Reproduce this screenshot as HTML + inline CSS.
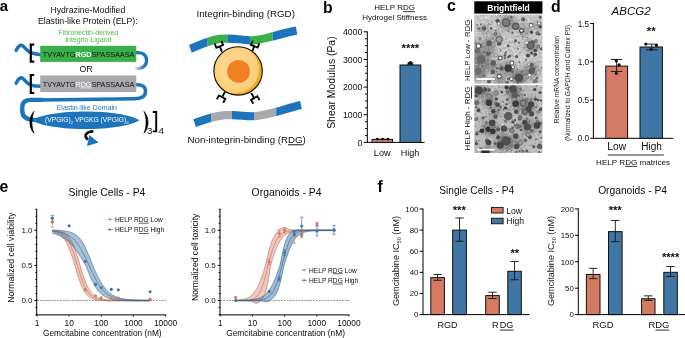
<!DOCTYPE html>
<html lang="en"><head><meta charset="utf-8"><title>Figure</title>
<style>
html,body{margin:0;padding:0;background:#fff;}
body{width:685px;height:338px;overflow:hidden;}
svg{display:block;font-family:'Liberation Sans', Arial, sans-serif;}
</style></head><body>
<svg width="685" height="338" viewBox="0 0 685 338">
<rect width="685" height="338" fill="#fff"/>
<g id="panel-a">
<text x="-0.2" y="11.0" font-size="15.0" text-anchor="start" fill="#000" font-weight="bold">a</text>
<text x="87.8" y="13" font-size="8.7" text-anchor="middle" fill="#0d0d0d">Hydrazine-Modified</text>
<text x="87.8" y="23.6" font-size="8.75" text-anchor="middle" fill="#0d0d0d">Elastin-like Protein (ELP):</text>
<text x="88.3" y="35.4" font-size="7.0" text-anchor="middle" fill="#4DB848">Fibronectin-derived</text>
<text x="88.3" y="42.2" font-size="7.0" text-anchor="middle" fill="#4DB848">Integrin Ligand</text>
<path d="M16.2 50.4 C17.8 46.6 20.6 44.2 22.8 45.8 C25.6 48 27.4 51.6 31 52.8 C34.5 53.8 37.5 54.4 41 54.8" fill="none" stroke="#1C75BC" stroke-width="3.5" stroke-linecap="round"/>
<linearGradient id="fade" gradientUnits="userSpaceOnUse" x1="146" y1="0" x2="134" y2="0"><stop offset="0" stop-color="#1C75BC"/><stop offset="0.35" stop-color="#1C75BC" stop-opacity="0.85"/><stop offset="1" stop-color="#1C75BC" stop-opacity="0"/></linearGradient>
<path d="M135 52.8 C142.5 51.6 146.6 54.8 146.6 60.2" fill="none" stroke="#1C75BC" stroke-width="3.3" stroke-linecap="butt"/>
<path d="M146.6 60 C146.6 66.6 141 69.4 134 68.4" fill="none" stroke="url(#fade)" stroke-width="3.3" stroke-linecap="butt"/>
<path d="M16.2 83.2 C17.8 79.2 20.6 76.8 22.8 78.4 C25.6 80.6 27.4 84.2 31 85.2 C34.5 86 37.5 86.2 41 86.3" fill="none" stroke="#1C75BC" stroke-width="3.5" stroke-linecap="round"/>
<path d="M135 84.8 C142.5 84 145.5 86.8 145.5 91.5 C145.5 96.4 141.5 98.6 135 98.7 L40 99.9" fill="none" stroke="#1C75BC" stroke-width="3.5" stroke-linecap="round"/>
<path d="M42 99.9 L31 99.9 C25 99.9 22.3 102.4 22.3 107 L22.3 111 C22.3 116.6 26 119.6 34 119.9" fill="none" stroke="#1C75BC" stroke-width="4.4" stroke-linecap="round"/>
<rect x="40.2" y="45.8" width="96.1" height="16.1" fill="#39B04A"/>
<rect x="40.2" y="75.5" width="96.1" height="16.6" fill="#A7A9AC"/>
<text x="42.8" y="56.6" font-size="7.22" fill="#111">TVYAVTG<tspan fill="#fff" font-weight="bold">RGD</tspan>SPASSAASA</text>
<text x="42.8" y="86.6" font-size="7.22" fill="#111">TVYAVTG<tspan fill="#fff">R<tspan text-decoration="underline">DG</tspan></tspan>SPASSAASA</text>
<text x="86" y="71.6" font-size="8.8" text-anchor="middle" fill="#0d0d0d">OR</text>
<path d="M34.2 44.6 H30.8 V61.6 H34.2" fill="none" stroke="#000" stroke-width="2.2"/>
<path d="M34.2 75 H30.8 V93 H34.2" fill="none" stroke="#000" stroke-width="2.2"/>
<text x="86.8" y="110.2" font-size="7.05" text-anchor="middle" fill="#1C75BC">Elastin-like Domain</text>
<path d="M31.5 120.3 C50 108.5 121 108.5 139.5 120.3 C121 132 50 132 31.5 120.3 Z" fill="#1C75BC"/>
<text x="86.8" y="122.3" font-size="6.7" fill="#fff" text-anchor="middle">(VPGIG)<tspan font-size="4.3" dy="1.5">2</tspan><tspan dy="-1.5"> VPGKG (VPGIG)</tspan><tspan font-size="4.3" dy="1.5">2</tspan></text>
<path d="M34 111.4 C28.6 117 28.6 127.6 34 133.2 C31.2 127 31.2 117.6 34 111.4 Z" fill="#000" stroke="#000" stroke-width="0.7"/>
<path d="M144 111.4 C149.4 117 149.4 127.6 144 133.2 C146.8 127 146.8 117.6 144 111.4 Z" fill="#000" stroke="#000" stroke-width="0.7"/>
<text x="149.8" y="134.4" font-size="9.8" text-anchor="middle" fill="#111">3</text>
<path d="M152.8 112 H156.2 V131.4 H152.8" fill="none" stroke="#000" stroke-width="1.9"/>
<text x="161.2" y="134.4" font-size="9.8" text-anchor="middle" fill="#111">4</text>
<path d="M93.4 131.4 C86.5 131.6 82.8 135.8 88 139.6" fill="none" stroke="#111" stroke-width="2.7"/>
<path d="M89.4 135 L98.6 142.6 L87 146 Z" fill="#1C75BC"/>
<text x="245.7" y="17.2" font-size="9.8" text-anchor="middle" fill="#0d0d0d">Integrin-binding (RGD)</text>
<text x="246.7" y="143.3" font-size="9.72" text-anchor="middle" fill="#0d0d0d">Non-integrin-binding (R<tspan text-decoration="underline">DG</tspan>)</text>
<clipPath id="rt0"><rect x="180" y="0" width="27.69999999999999" height="338"/></clipPath>
<path d="M190.4 48.8 C200 45.4 208 40.2 220 38.9 C235 37.3 245 41.2 255 40.2 C270 38.5 280 33.2 296.6 30.6" fill="none" stroke="#1C75BC" stroke-width="8.2" clip-path="url(#rt0)"/>
<clipPath id="rt1"><rect x="207.7" y="0" width="19.600000000000023" height="338"/></clipPath>
<path d="M190.4 48.8 C200 45.4 208 40.2 220 38.9 C235 37.3 245 41.2 255 40.2 C270 38.5 280 33.2 296.6 30.6" fill="none" stroke="#39B04A" stroke-width="8.2" clip-path="url(#rt1)"/>
<clipPath id="rt2"><rect x="227.3" y="0" width="22.69999999999999" height="338"/></clipPath>
<path d="M190.4 48.8 C200 45.4 208 40.2 220 38.9 C235 37.3 245 41.2 255 40.2 C270 38.5 280 33.2 296.6 30.6" fill="none" stroke="#1C75BC" stroke-width="8.2" clip-path="url(#rt2)"/>
<clipPath id="rt3"><rect x="250" y="0" width="22.600000000000023" height="338"/></clipPath>
<path d="M190.4 48.8 C200 45.4 208 40.2 220 38.9 C235 37.3 245 41.2 255 40.2 C270 38.5 280 33.2 296.6 30.6" fill="none" stroke="#39B04A" stroke-width="8.2" clip-path="url(#rt3)"/>
<clipPath id="rt4"><rect x="272.6" y="0" width="27.399999999999977" height="338"/></clipPath>
<path d="M190.4 48.8 C200 45.4 208 40.2 220 38.9 C235 37.3 245 41.2 255 40.2 C270 38.5 280 33.2 296.6 30.6" fill="none" stroke="#1C75BC" stroke-width="8.2" clip-path="url(#rt4)"/>
<clipPath id="rbm0"><rect x="185" y="0" width="25.900000000000006" height="338"/></clipPath>
<path d="M194.6 123.2 C204 120 213 116 225 115.2 C239 114.4 247 117.2 257 116 C272 114.2 285 108.6 301 105" fill="none" stroke="#1C75BC" stroke-width="8.2" clip-path="url(#rbm0)"/>
<clipPath id="rbm1"><rect x="210.9" y="0" width="21.0" height="338"/></clipPath>
<path d="M194.6 123.2 C204 120 213 116 225 115.2 C239 114.4 247 117.2 257 116 C272 114.2 285 108.6 301 105" fill="none" stroke="#A7A9AC" stroke-width="8.2" clip-path="url(#rbm1)"/>
<clipPath id="rbm2"><rect x="231.9" y="0" width="22.0" height="338"/></clipPath>
<path d="M194.6 123.2 C204 120 213 116 225 115.2 C239 114.4 247 117.2 257 116 C272 114.2 285 108.6 301 105" fill="none" stroke="#1C75BC" stroke-width="8.2" clip-path="url(#rbm2)"/>
<clipPath id="rbm3"><rect x="253.9" y="0" width="22.299999999999983" height="338"/></clipPath>
<path d="M194.6 123.2 C204 120 213 116 225 115.2 C239 114.4 247 117.2 257 116 C272 114.2 285 108.6 301 105" fill="none" stroke="#A7A9AC" stroke-width="8.2" clip-path="url(#rbm3)"/>
<clipPath id="rbm4"><rect x="276.2" y="0" width="28.80000000000001" height="338"/></clipPath>
<path d="M194.6 123.2 C204 120 213 116 225 115.2 C239 114.4 247 117.2 257 116 C272 114.2 285 108.6 301 105" fill="none" stroke="#1C75BC" stroke-width="8.2" clip-path="url(#rbm4)"/>
<filter id="blurc"><feGaussianBlur stdDeviation="3"/></filter>
<g transform="translate(219.7 46.4) rotate(-22)" fill="none" stroke="#0a0a0a" stroke-width="1.9" stroke-linecap="butt" stroke-linejoin="miter"><path d="M0 6 V0 M-3.6 -4.4 V0 H3.6 V-4.4"/></g>
<g transform="translate(254.3 46.2) rotate(22)" fill="none" stroke="#0a0a0a" stroke-width="1.9" stroke-linecap="butt" stroke-linejoin="miter"><path d="M0 6 V0 M-3.6 -4.4 V0 H3.6 V-4.4"/></g>
<g transform="translate(222.1 97.2) rotate(208)" fill="none" stroke="#0a0a0a" stroke-width="1.9" stroke-linecap="butt" stroke-linejoin="miter"><path d="M0 6 V0 M-3.6 -4.4 V0 H3.6 V-4.4"/></g>
<g transform="translate(254.2 98.1) rotate(150)" fill="none" stroke="#0a0a0a" stroke-width="1.9" stroke-linecap="butt" stroke-linejoin="miter"><path d="M0 6 V0 M-3.6 -4.4 V0 H3.6 V-4.4"/></g>
<clipPath id="cellclip"><circle cx="238.1" cy="70.9" r="24.2"/></clipPath>
<circle cx="238.1" cy="70.9" r="24.2" fill="#F6AA1E"/>
<circle cx="234.9" cy="69.3" r="24.0" fill="#FCCD76" clip-path="url(#cellclip)"/>
<circle cx="233.5" cy="68.3" r="19" fill="#FCD58A" clip-path="url(#cellclip)" filter="url(#blurc)"/>
<circle cx="238.1" cy="70.9" r="24.2" fill="none" stroke="#111" stroke-width="1.15"/>
<circle cx="238.6" cy="71.4" r="11.4" fill="#F08121"/>
</g>
<g id="panel-b">
<text x="323.0" y="13.2" font-size="15.8" text-anchor="start" fill="#000" font-weight="bold">b</text>
<text x="394.6" y="10.3" font-size="8.0" text-anchor="middle" fill="#0d0d0d">HELP R<tspan text-decoration="underline">DG</tspan></text>
<text x="394.6" y="19.6" font-size="8.0" text-anchor="middle" fill="#0d0d0d">Hydrogel Stiffness</text>
<line x1="367.3" y1="31.4" x2="367.3" y2="142.9" stroke="#000" stroke-width="1"/>
<line x1="366.8" y1="142.4" x2="424.6" y2="142.4" stroke="#000" stroke-width="1"/>
<line x1="363.7" y1="142.4" x2="367.3" y2="142.4" stroke="#000" stroke-width="1"/>
<text x="362.3" y="145.5" font-size="8.7" text-anchor="end" fill="#0d0d0d">0</text>
<line x1="365.0" y1="135.49" x2="367.3" y2="135.49" stroke="#000" stroke-width="0.9"/>
<line x1="365.0" y1="128.58" x2="367.3" y2="128.58" stroke="#000" stroke-width="0.9"/>
<line x1="365.0" y1="121.66" x2="367.3" y2="121.66" stroke="#000" stroke-width="0.9"/>
<line x1="363.7" y1="114.75" x2="367.3" y2="114.75" stroke="#000" stroke-width="1"/>
<text x="362.3" y="117.85" font-size="8.7" text-anchor="end" fill="#0d0d0d">1000</text>
<line x1="365.0" y1="107.84" x2="367.3" y2="107.84" stroke="#000" stroke-width="0.9"/>
<line x1="365.0" y1="100.92" x2="367.3" y2="100.92" stroke="#000" stroke-width="0.9"/>
<line x1="365.0" y1="94.01" x2="367.3" y2="94.01" stroke="#000" stroke-width="0.9"/>
<line x1="363.7" y1="87.10000000000001" x2="367.3" y2="87.10000000000001" stroke="#000" stroke-width="1"/>
<text x="362.3" y="90.2" font-size="8.7" text-anchor="end" fill="#0d0d0d">2000</text>
<line x1="365.0" y1="80.19" x2="367.3" y2="80.19" stroke="#000" stroke-width="0.9"/>
<line x1="365.0" y1="73.28" x2="367.3" y2="73.28" stroke="#000" stroke-width="0.9"/>
<line x1="365.0" y1="66.36" x2="367.3" y2="66.36" stroke="#000" stroke-width="0.9"/>
<line x1="363.7" y1="59.45000000000002" x2="367.3" y2="59.45000000000002" stroke="#000" stroke-width="1"/>
<text x="362.3" y="62.55000000000002" font-size="8.7" text-anchor="end" fill="#0d0d0d">3000</text>
<line x1="365.0" y1="52.54" x2="367.3" y2="52.54" stroke="#000" stroke-width="0.9"/>
<line x1="365.0" y1="45.63" x2="367.3" y2="45.63" stroke="#000" stroke-width="0.9"/>
<line x1="365.0" y1="38.71" x2="367.3" y2="38.71" stroke="#000" stroke-width="0.9"/>
<line x1="363.7" y1="31.80000000000001" x2="367.3" y2="31.80000000000001" stroke="#000" stroke-width="1"/>
<text x="362.3" y="34.90000000000001" font-size="8.7" text-anchor="end" fill="#0d0d0d">4000</text>
<text x="335.2" y="82.6" font-size="10.4" text-anchor="middle" fill="#0d0d0d" transform="rotate(-90 335.2 82.6)">Shear Modulus (Pa)</text>
<rect x="372.1" y="139.4" width="20.4" height="3.0" fill="#D57B63" stroke="#111" stroke-width="1"/>
<rect x="400.0" y="65.0" width="20.8" height="77.4" fill="#3F76A3" stroke="#111" stroke-width="1"/>
<line x1="407.3" y1="62.9" x2="413.2" y2="62.9" stroke="#111" stroke-width="0.9"/>
<line x1="407.3" y1="64.4" x2="413.2" y2="64.4" stroke="#111" stroke-width="0.9"/>
<circle cx="409.3" cy="63.2" r="1.25" fill="#111"/>
<circle cx="410.4" cy="62.3" r="1.25" fill="#111"/>
<circle cx="411.4" cy="63.2" r="1.25" fill="#111"/>
<circle cx="377.2" cy="139.1" r="1.3" fill="#111"/>
<circle cx="382.6" cy="139.1" r="1.3" fill="#111"/>
<circle cx="388" cy="139.1" r="1.3" fill="#111"/>
<line x1="377" y1="139.2" x2="388" y2="139.2" stroke="#111" stroke-width="0.8"/>
<text x="410.4" y="51.8" font-size="11.4" text-anchor="middle" fill="#0d0d0d" font-weight="bold">****</text>
<text x="382.2" y="156.0" font-size="9.1" text-anchor="middle" fill="#0d0d0d">Low</text>
<text x="410.1" y="156.0" font-size="9.0" text-anchor="middle" fill="#0d0d0d">High</text>
</g>
<g id="panel-c">
<text x="447.0" y="11.4" font-size="15.8" text-anchor="start" fill="#000" font-weight="bold">c</text>
<rect x="474.3" y="1.3" width="68.1" height="12.3" fill="#000"/>
<text x="508.5" y="10.7" font-size="8.5" text-anchor="middle" fill="#fff" font-weight="bold">Brightfield</text>
<text x="470.0" y="50.3" font-size="7.85" text-anchor="middle" fill="#0d0d0d" transform="rotate(-90 470.0 50.3)">HELP Low - R<tspan text-decoration="underline">DG</tspan></text>
<text x="470.0" y="118.6" font-size="7.95" text-anchor="middle" fill="#0d0d0d" transform="rotate(-90 470.0 118.6)">HELP High - R<tspan text-decoration="underline">DG</tspan></text>
<filter id="blur1" x="-5%" y="-5%" width="110%" height="110%"><feGaussianBlur stdDeviation="0.6"/></filter>
<filter id="blur2" x="-5%" y="-5%" width="110%" height="110%"><feGaussianBlur stdDeviation="2.4"/></filter>
<filter id="grain" x="0" y="0" width="100%" height="100%"><feTurbulence type="fractalNoise" baseFrequency="0.36" numOctaves="2" seed="7" result="n"/><feColorMatrix type="matrix" values="0 0 0 0 0.2  0 0 0 0 0.2  0 0 0 0 0.2  3.0 0 0 0 -1.35"/></filter>
<filter id="grainw" x="0" y="0" width="100%" height="100%"><feTurbulence type="fractalNoise" baseFrequency="0.5" numOctaves="2" seed="23" result="n"/><feColorMatrix type="matrix" values="0 0 0 0 0.95  0 0 0 0 0.95  0 0 0 0 0.95  0 2.4 0 0 -1.15"/></filter>
<clipPath id="im1"><rect x="474.3" y="14.8" width="68.1" height="68.6"/></clipPath>
<clipPath id="im2"><rect x="474.3" y="85.3" width="68.1" height="67.8"/></clipPath>
<g clip-path="url(#im1)">
<rect x="470" y="11.8" width="76" height="74.60000000000001" fill="#CACACA"/>
<g filter="url(#blur2)">
<circle cx="481" cy="60" r="9" fill="#787878"/>
<circle cx="479" cy="72" r="8" fill="#7c7c7c"/>
<circle cx="490" cy="50" r="6" fill="#8c8c8c"/>
<circle cx="519" cy="78" r="8" fill="#787878"/>
<circle cx="508" cy="68" r="7" fill="#858585"/>
<circle cx="531" cy="70" r="8" fill="#858585"/>
<circle cx="531" cy="46" r="7" fill="#8c8c8c"/>
<circle cx="493" cy="66" r="6" fill="#858585"/>
<circle cx="500" cy="80" r="6" fill="#888"/>
<circle cx="508" cy="23" r="8" fill="#8c8c8c"/>
<circle cx="489" cy="44" r="6" fill="#888"/>
<circle cx="478" cy="47" r="5" fill="#909090"/>
<circle cx="497" cy="36" r="6" fill="#999"/>
<circle cx="484" cy="29" r="5" fill="#999"/>
<circle cx="524" cy="30" r="6" fill="#999"/>
<circle cx="538" cy="26" r="5" fill="#999"/>
<circle cx="524" cy="58" r="6" fill="#cfcfcf"/>
<circle cx="486" cy="20" r="5" fill="#cdcdcd"/>
<circle cx="536" cy="38" r="5" fill="#d0d0d0"/>
<circle cx="512" cy="50" r="6" fill="#cdcdcd"/>
<circle cx="506" cy="36" r="5" fill="#cfcfcf"/>
</g>
<rect x="474" y="14.8" width="69" height="68.60000000000001" fill="#000" filter="url(#grain)" opacity="0.45"/>
<rect x="474" y="14.8" width="69" height="68.60000000000001" fill="#fff" filter="url(#grainw)" opacity="0.5"/>
<g filter="url(#blur1)">
<circle cx="505.3" cy="53.2" r="1.24" fill="#808080"/>
<circle cx="505.2" cy="73.5" r="0.65" fill="#808080"/>
<circle cx="517.3" cy="69.2" r="0.58" fill="#5e5e5e"/>
<circle cx="484.1" cy="51.8" r="1.21" fill="#6a6a6a"/>
<circle cx="515.0" cy="42.0" r="0.86" fill="#767676"/>
<circle cx="516.9" cy="71.9" r="0.55" fill="#6a6a6a"/>
<circle cx="487.4" cy="31.4" r="0.52" fill="#808080"/>
<circle cx="496.7" cy="55.3" r="0.66" fill="#767676"/>
<circle cx="518.0" cy="49.1" r="1.03" fill="#808080"/>
<circle cx="519.0" cy="42.7" r="0.94" fill="#6a6a6a"/>
<circle cx="522.6" cy="36.4" r="0.68" fill="#5e5e5e"/>
<circle cx="476.5" cy="53.4" r="0.59" fill="#6a6a6a"/>
<circle cx="532.1" cy="41.3" r="1.27" fill="#6a6a6a"/>
<circle cx="489.0" cy="78.4" r="0.54" fill="#808080"/>
<circle cx="541.2" cy="42.1" r="0.56" fill="#767676"/>
<circle cx="527.4" cy="33.3" r="0.57" fill="#5e5e5e"/>
<circle cx="475.5" cy="42.9" r="1.24" fill="#767676"/>
<circle cx="491.3" cy="21.7" r="0.55" fill="#808080"/>
<circle cx="486.6" cy="53.2" r="0.86" fill="#767676"/>
<circle cx="541.5" cy="67.6" r="0.84" fill="#808080"/>
<circle cx="482.4" cy="43.7" r="0.67" fill="#5e5e5e"/>
<circle cx="533.3" cy="81.7" r="0.97" fill="#6a6a6a"/>
<circle cx="488.8" cy="41.8" r="1.18" fill="#6a6a6a"/>
<circle cx="477.4" cy="24.8" r="0.85" fill="#6a6a6a"/>
<circle cx="527.0" cy="37.4" r="0.74" fill="#6a6a6a"/>
<circle cx="479.6" cy="29.1" r="1.01" fill="#6a6a6a"/>
<circle cx="515.4" cy="40.3" r="0.86" fill="#808080"/>
<circle cx="531.1" cy="24.1" r="0.81" fill="#767676"/>
<circle cx="495.6" cy="30.5" r="0.99" fill="#767676"/>
<circle cx="485.3" cy="57.9" r="0.94" fill="#808080"/>
<circle cx="534.5" cy="56.2" r="0.84" fill="#6a6a6a"/>
<circle cx="481.9" cy="49.9" r="0.70" fill="#808080"/>
<circle cx="492.0" cy="71.3" r="0.98" fill="#5e5e5e"/>
<circle cx="509.9" cy="78.5" r="1.28" fill="#767676"/>
<circle cx="490.0" cy="53.2" r="1.18" fill="#6a6a6a"/>
<circle cx="493.6" cy="77.7" r="0.66" fill="#6a6a6a"/>
<circle cx="479.2" cy="43.0" r="0.70" fill="#6a6a6a"/>
<circle cx="486.5" cy="40.1" r="0.96" fill="#767676"/>
<circle cx="480.8" cy="24.3" r="0.86" fill="#5e5e5e"/>
<circle cx="519.2" cy="62.2" r="0.97" fill="#767676"/>
<circle cx="514.6" cy="78.2" r="0.88" fill="#5e5e5e"/>
<circle cx="522.2" cy="80.8" r="0.52" fill="#6a6a6a"/>
<circle cx="507.3" cy="64.9" r="0.76" fill="#6a6a6a"/>
<circle cx="479.6" cy="52.3" r="1.09" fill="#767676"/>
<circle cx="528.4" cy="77.6" r="0.78" fill="#808080"/>
<circle cx="535.8" cy="74.6" r="0.83" fill="#6a6a6a"/>
<circle cx="533.2" cy="54.1" r="1.00" fill="#808080"/>
<circle cx="500.3" cy="15.7" r="0.56" fill="#6a6a6a"/>
<circle cx="518.0" cy="82.9" r="1.20" fill="#5e5e5e"/>
<circle cx="500.9" cy="65.2" r="0.96" fill="#808080"/>
<circle cx="506.0" cy="51.9" r="0.91" fill="#6a6a6a"/>
<circle cx="495.6" cy="20.8" r="0.52" fill="#6a6a6a"/>
<circle cx="508.3" cy="57.0" r="1.24" fill="#5e5e5e"/>
<circle cx="535.5" cy="40.0" r="0.61" fill="#767676"/>
<circle cx="509.8" cy="66.5" r="0.77" fill="#808080"/>
<circle cx="508.4" cy="31.4" r="0.82" fill="#5e5e5e"/>
<circle cx="488.0" cy="44.4" r="1.14" fill="#767676"/>
<circle cx="534.4" cy="41.2" r="0.97" fill="#5e5e5e"/>
<circle cx="488.8" cy="24.0" r="0.78" fill="#6a6a6a"/>
<circle cx="522.9" cy="80.0" r="0.72" fill="#767676"/>
<circle cx="482.2" cy="47.1" r="1.24" fill="#808080"/>
<circle cx="500.5" cy="50.5" r="1.04" fill="#808080"/>
<circle cx="496.3" cy="71.7" r="0.72" fill="#6a6a6a"/>
<circle cx="520.6" cy="34.1" r="0.78" fill="#6a6a6a"/>
<circle cx="518.1" cy="42.6" r="0.65" fill="#5e5e5e"/>
<circle cx="490.6" cy="24.5" r="0.54" fill="#6a6a6a"/>
<circle cx="504.9" cy="58.0" r="1.02" fill="#5e5e5e"/>
<circle cx="539.7" cy="61.8" r="0.66" fill="#808080"/>
<circle cx="491.9" cy="63.8" r="1.10" fill="#6a6a6a"/>
<circle cx="486.7" cy="33.5" r="0.78" fill="#767676"/>
<circle cx="501.4" cy="68.5" r="2.19" fill="#5a5a5a"/>
<circle cx="534.8" cy="41.6" r="1.64" fill="#666"/>
<circle cx="536.0" cy="40.9" r="1.78" fill="#7a7a7a"/>
<circle cx="538.3" cy="46.7" r="1.88" fill="#666"/>
<circle cx="538.3" cy="46.7" r="0.94" fill="#9a9a9a"/>
<circle cx="533.0" cy="69.0" r="2.21" fill="#5a5a5a"/>
<circle cx="533.0" cy="69.0" r="1.10" fill="#9a9a9a"/>
<circle cx="535.3" cy="81.1" r="2.27" fill="#7a7a7a"/>
<circle cx="537.5" cy="33.2" r="1.96" fill="#5a5a5a"/>
<circle cx="537.5" cy="33.2" r="0.98" fill="#9a9a9a"/>
<circle cx="480.5" cy="45.2" r="1.76" fill="#707070"/>
<circle cx="476.9" cy="69.7" r="1.18" fill="#5a5a5a"/>
<circle cx="476.9" cy="69.7" r="0.59" fill="#9a9a9a"/>
<circle cx="497.4" cy="68.3" r="1.27" fill="#666"/>
<circle cx="535.3" cy="50.3" r="1.91" fill="#4e4e4e"/>
<circle cx="508.0" cy="79.0" r="1.20" fill="#666"/>
<circle cx="512.4" cy="71.2" r="1.77" fill="#666"/>
<circle cx="531.5" cy="53.1" r="1.47" fill="#4e4e4e"/>
<circle cx="497.6" cy="21" r="2.07" fill="#4e4e4e"/>
<circle cx="523.1" cy="19.4" r="2.07" fill="#5c5c5c"/>
<circle cx="540.2" cy="26.8" r="1.83" fill="#4e4e4e"/>
<circle cx="531.6" cy="32.2" r="1.71" fill="#4e4e4e"/>
<circle cx="484.2" cy="28.4" r="2.20" fill="#5c5c5c"/>
<circle cx="491.2" cy="28.4" r="1.22" fill="#5c5c5c"/>
<circle cx="489" cy="43.4" r="2.81" fill="#5c5c5c"/>
<circle cx="515.7" cy="40.7" r="1.46" fill="#5c5c5c"/>
<circle cx="508.2" cy="46" r="1.46" fill="#5c5c5c"/>
<circle cx="512.5" cy="32.7" r="1.10" fill="#5c5c5c"/>
<circle cx="540.2" cy="17.3" r="1.46" fill="#5c5c5c"/>
<circle cx="511.4" cy="17.3" r="1.22" fill="#5c5c5c"/>
<circle cx="478.4" cy="28.4" r="1.22" fill="#6a6a6a"/>
<circle cx="539.1" cy="34.3" r="1.46" fill="#5c5c5c"/>
<circle cx="499.2" cy="43.6" r="2.20" fill="#4e4e4e"/>
<circle cx="481" cy="59.7" r="4.15" fill="#666"/>
<circle cx="493.3" cy="62.9" r="2.68" fill="#5c5c5c"/>
<circle cx="488" cy="53.9" r="2.07" fill="#5c5c5c"/>
<circle cx="492.8" cy="72" r="2.44" fill="#5c5c5c"/>
<circle cx="478.4" cy="70.9" r="3.17" fill="#6c6c6c"/>
<circle cx="508.2" cy="68.2" r="3.66" fill="#3a3a3a"/>
<circle cx="518.9" cy="77.8" r="4.15" fill="#4e4e4e"/>
<circle cx="531.6" cy="70.9" r="3.17" fill="#5c5c5c"/>
<circle cx="531.6" cy="65" r="1.95" fill="#5c5c5c"/>
<circle cx="527.9" cy="55.5" r="2.07" fill="#4e4e4e"/>
<circle cx="535.4" cy="54.4" r="1.71" fill="#4e4e4e"/>
<circle cx="516.7" cy="56.5" r="1.59" fill="#5c5c5c"/>
<circle cx="507.1" cy="82.6" r="1.71" fill="#5c5c5c"/>
<circle cx="489" cy="81.5" r="2.07" fill="#5c5c5c"/>
<circle cx="477.3" cy="50.7" r="2.68" fill="#6a6a6a"/>
<circle cx="541.2" cy="49" r="1.46" fill="#5c5c5c"/>
<circle cx="505" cy="55.5" r="1.34" fill="#5c5c5c"/>
<circle cx="509.8" cy="56" r="1.34" fill="#5c5c5c"/>
<circle cx="525.8" cy="59.6" r="1.10" fill="#5c5c5c"/>
<circle cx="522" cy="72" r="1.22" fill="#6a6a6a"/>
<circle cx="537" cy="78" r="1.34" fill="#6a6a6a"/>
<circle cx="484" cy="76" r="1.46" fill="#6a6a6a"/>
<circle cx="506.1" cy="22.6" r="3.7" fill="#7c7c7c" stroke="#5a5a5a" stroke-width="1.41"/>
<circle cx="515.7" cy="26.3" r="3.2" fill="#747474" stroke="#585858" stroke-width="1.22"/>
<circle cx="499.2" cy="39.6" r="3.0" fill="#a0a0a0" stroke="#6a6a6a" stroke-width="1.14"/>
<circle cx="495.4" cy="33.8" r="1.5" fill="#909090" stroke="#5c5c5c" stroke-width="0.80"/>
<circle cx="480" cy="38.6" r="1.3" fill="#b0b0b0" stroke="#686868" stroke-width="0.80"/>
<circle cx="530.6" cy="45.3" r="3.5" fill="#6c6c6c" stroke="#555" stroke-width="1.33"/>
<circle cx="498.6" cy="23.6" r="2.0" fill="#555"/>
<circle cx="498.6" cy="23.6" r="1.3" fill="#fafafa"/>
<circle cx="521.5" cy="30.6" r="2.6" fill="#555"/>
<circle cx="521.5" cy="30.6" r="1.2" fill="#fafafa"/>
<circle cx="531.1" cy="25.2" r="2.4" fill="#555"/>
<circle cx="531.1" cy="25.2" r="1.5" fill="#fafafa"/>
<circle cx="539.1" cy="23.6" r="1.7" fill="#555"/>
<circle cx="539.1" cy="23.6" r="1.1" fill="#fafafa"/>
<circle cx="494.9" cy="28.4" r="0.9" fill="#fafafa"/>
<circle cx="500.2" cy="30" r="0.7" fill="#fafafa"/>
<circle cx="478.4" cy="46" r="2.7" fill="#555"/>
<circle cx="478.4" cy="46" r="1.7" fill="#fafafa"/>
<circle cx="526.8" cy="42.8" r="1.1" fill="#fafafa"/>
<circle cx="516.7" cy="38" r="0.6" fill="#fafafa"/>
<circle cx="485.8" cy="17.3" r="0.9" fill="#fafafa"/>
<circle cx="500.2" cy="58.1" r="2.5" fill="#555"/>
<circle cx="500.2" cy="58.1" r="1.4" fill="#fafafa"/>
<circle cx="496" cy="55.5" r="1.6" fill="#555"/>
<circle cx="496" cy="55.5" r="0.9" fill="#fafafa"/>
<circle cx="511.9" cy="62.9" r="2.4" fill="#555"/>
<circle cx="511.9" cy="62.9" r="1.5" fill="#fafafa"/>
<circle cx="513" cy="67.2" r="1.7" fill="#555"/>
<circle cx="513" cy="67.2" r="1.1" fill="#fafafa"/>
<circle cx="499.2" cy="76.2" r="2.6" fill="#555"/>
<circle cx="499.2" cy="76.2" r="1.5" fill="#fafafa"/>
<circle cx="511.4" cy="78.9" r="2.2" fill="#555"/>
<circle cx="511.4" cy="78.9" r="1.3" fill="#fafafa"/>
<circle cx="529.5" cy="75.2" r="1.1" fill="#fafafa"/>
<circle cx="529" cy="64.5" r="0.7" fill="#fafafa"/>
<circle cx="525.2" cy="58.9" r="0.6" fill="#fafafa"/>
</g>
<rect x="476.4" y="78.1" width="18.4" height="1.9" fill="#fff"/>
</g>
<g clip-path="url(#im2)">
<rect x="470" y="82.3" width="76" height="73.8" fill="#BDBDBD"/>
<g filter="url(#blur2)">
<circle cx="480" cy="91" r="7" fill="#808080"/>
<circle cx="489" cy="100" r="7" fill="#888"/>
<circle cx="514" cy="92" r="8" fill="#7c7c7c"/>
<circle cx="526" cy="107" r="9" fill="#808080"/>
<circle cx="490" cy="128" r="8" fill="#7c7c7c"/>
<circle cx="504" cy="142" r="9" fill="#7a7a7a"/>
<circle cx="488" cy="151" r="5" fill="#707070"/>
<circle cx="527" cy="127" r="7" fill="#868686"/>
<circle cx="516" cy="104" r="6" fill="#888"/>
<circle cx="537" cy="125" r="5" fill="#888"/>
<circle cx="517" cy="142" r="6" fill="#8c8c8c"/>
<circle cx="496" cy="112" r="6" fill="#909090"/>
<circle cx="536" cy="140" r="5" fill="#bbb"/>
<circle cx="502" cy="97" r="4" fill="#bcbcbc"/>
<circle cx="536" cy="95" r="4" fill="#b8b8b8"/>
<circle cx="481" cy="120" r="4" fill="#b8b8b8"/>
<circle cx="510" cy="123" r="4" fill="#b8b8b8"/>
</g>
<rect x="474" y="85.3" width="69" height="67.8" fill="#000" filter="url(#grain)" opacity="0.45"/>
<rect x="474" y="85.3" width="69" height="67.8" fill="#fff" filter="url(#grainw)" opacity="0.5"/>
<g filter="url(#blur1)">
<circle cx="506.8" cy="129.9" r="1.03" fill="#767676"/>
<circle cx="500.5" cy="152.9" r="0.89" fill="#808080"/>
<circle cx="521.5" cy="126.1" r="0.95" fill="#767676"/>
<circle cx="541.0" cy="110.2" r="0.77" fill="#767676"/>
<circle cx="478.5" cy="140.8" r="0.56" fill="#5e5e5e"/>
<circle cx="520.8" cy="139.4" r="0.57" fill="#6a6a6a"/>
<circle cx="530.2" cy="130.2" r="0.68" fill="#808080"/>
<circle cx="538.9" cy="92.9" r="0.84" fill="#767676"/>
<circle cx="511.2" cy="145.1" r="0.95" fill="#6a6a6a"/>
<circle cx="512.3" cy="119.7" r="0.57" fill="#808080"/>
<circle cx="519.9" cy="117.1" r="0.99" fill="#6a6a6a"/>
<circle cx="518.1" cy="90.9" r="0.65" fill="#5e5e5e"/>
<circle cx="498.7" cy="109.9" r="1.05" fill="#5e5e5e"/>
<circle cx="482.2" cy="101.2" r="0.79" fill="#767676"/>
<circle cx="476.4" cy="141.1" r="0.84" fill="#6a6a6a"/>
<circle cx="489.6" cy="114.3" r="0.81" fill="#6a6a6a"/>
<circle cx="525.7" cy="100.3" r="0.56" fill="#5e5e5e"/>
<circle cx="477.0" cy="104.0" r="0.78" fill="#6a6a6a"/>
<circle cx="509.5" cy="110.3" r="0.77" fill="#808080"/>
<circle cx="506.9" cy="150.3" r="0.88" fill="#767676"/>
<circle cx="506.1" cy="122.5" r="0.65" fill="#767676"/>
<circle cx="536.5" cy="85.8" r="0.71" fill="#5e5e5e"/>
<circle cx="486.7" cy="139.2" r="0.90" fill="#767676"/>
<circle cx="516.6" cy="152.0" r="1.30" fill="#767676"/>
<circle cx="476.1" cy="107.2" r="1.13" fill="#5e5e5e"/>
<circle cx="518.0" cy="100.9" r="0.92" fill="#808080"/>
<circle cx="507.8" cy="109.3" r="1.05" fill="#808080"/>
<circle cx="535.3" cy="96.3" r="0.73" fill="#6a6a6a"/>
<circle cx="493.4" cy="149.3" r="0.91" fill="#808080"/>
<circle cx="522.4" cy="99.8" r="0.73" fill="#5e5e5e"/>
<circle cx="476.4" cy="85.6" r="0.52" fill="#5e5e5e"/>
<circle cx="503.1" cy="101.7" r="0.85" fill="#6a6a6a"/>
<circle cx="512.6" cy="127.7" r="1.24" fill="#5e5e5e"/>
<circle cx="526.2" cy="113.6" r="0.97" fill="#808080"/>
<circle cx="528.2" cy="124.6" r="0.78" fill="#5e5e5e"/>
<circle cx="517.9" cy="111.4" r="0.63" fill="#767676"/>
<circle cx="536.0" cy="139.4" r="1.22" fill="#808080"/>
<circle cx="510.9" cy="138.8" r="0.80" fill="#6a6a6a"/>
<circle cx="522.8" cy="98.1" r="0.72" fill="#808080"/>
<circle cx="516.8" cy="93.8" r="0.93" fill="#808080"/>
<circle cx="514.0" cy="90.2" r="0.78" fill="#6a6a6a"/>
<circle cx="521.1" cy="94.9" r="0.57" fill="#5e5e5e"/>
<circle cx="495.6" cy="97.5" r="1.04" fill="#808080"/>
<circle cx="499.4" cy="87.3" r="0.89" fill="#808080"/>
<circle cx="507.5" cy="89.1" r="0.98" fill="#808080"/>
<circle cx="490.7" cy="107.5" r="1.26" fill="#6a6a6a"/>
<circle cx="540.0" cy="110.1" r="1.18" fill="#808080"/>
<circle cx="494.6" cy="120.3" r="0.62" fill="#5e5e5e"/>
<circle cx="485.5" cy="116.8" r="0.99" fill="#767676"/>
<circle cx="505.8" cy="138.6" r="0.54" fill="#767676"/>
<circle cx="502.2" cy="132.7" r="1.13" fill="#808080"/>
<circle cx="519.6" cy="151.2" r="0.94" fill="#5e5e5e"/>
<circle cx="498.3" cy="134.9" r="0.76" fill="#808080"/>
<circle cx="535.4" cy="128.2" r="0.64" fill="#808080"/>
<circle cx="489.8" cy="122.2" r="0.70" fill="#6a6a6a"/>
<circle cx="503.7" cy="110.0" r="0.83" fill="#5e5e5e"/>
<circle cx="501.0" cy="144.5" r="1.22" fill="#5e5e5e"/>
<circle cx="484.6" cy="102.9" r="0.53" fill="#808080"/>
<circle cx="502.5" cy="127.2" r="0.71" fill="#808080"/>
<circle cx="526.8" cy="118.7" r="1.25" fill="#767676"/>
<circle cx="486.0" cy="99.2" r="0.70" fill="#5e5e5e"/>
<circle cx="510.0" cy="88.9" r="1.17" fill="#5e5e5e"/>
<circle cx="541.2" cy="147.3" r="1.12" fill="#5e5e5e"/>
<circle cx="531.1" cy="99.6" r="1.20" fill="#6a6a6a"/>
<circle cx="512.3" cy="88.2" r="1.15" fill="#767676"/>
<circle cx="485.6" cy="133.8" r="0.74" fill="#767676"/>
<circle cx="541.2" cy="137.7" r="0.94" fill="#6a6a6a"/>
<circle cx="515.8" cy="92.2" r="1.05" fill="#767676"/>
<circle cx="505.0" cy="121.1" r="1.02" fill="#808080"/>
<circle cx="508.9" cy="128.4" r="0.87" fill="#808080"/>
<circle cx="532.5" cy="145.8" r="0.52" fill="#5e5e5e"/>
<circle cx="475.9" cy="95.8" r="1.11" fill="#5e5e5e"/>
<circle cx="521.4" cy="150.1" r="1.05" fill="#808080"/>
<circle cx="511.8" cy="150.6" r="0.80" fill="#6a6a6a"/>
<circle cx="531.6" cy="94.1" r="0.55" fill="#6a6a6a"/>
<circle cx="503.3" cy="139.9" r="1.17" fill="#767676"/>
<circle cx="476.6" cy="131.9" r="0.95" fill="#6a6a6a"/>
<circle cx="514.8" cy="125.1" r="1.14" fill="#767676"/>
<circle cx="505.8" cy="108.1" r="1.02" fill="#5e5e5e"/>
<circle cx="528.9" cy="111.8" r="1.02" fill="#5e5e5e"/>
<circle cx="539.3" cy="152.2" r="1.11" fill="#5e5e5e"/>
<circle cx="484.2" cy="93.6" r="0.89" fill="#767676"/>
<circle cx="520.0" cy="86.2" r="0.68" fill="#808080"/>
<circle cx="504.1" cy="108.4" r="0.82" fill="#5e5e5e"/>
<circle cx="497.6" cy="111.2" r="1.19" fill="#808080"/>
<circle cx="497.8" cy="145.6" r="1.01" fill="#5e5e5e"/>
<circle cx="478.9" cy="108.4" r="0.71" fill="#767676"/>
<circle cx="531.5" cy="130.5" r="0.85" fill="#5e5e5e"/>
<circle cx="491.6" cy="113.7" r="0.58" fill="#808080"/>
<circle cx="486.3" cy="122.5" r="0.98" fill="#5e5e5e"/>
<circle cx="500.4" cy="106.7" r="1.53" fill="#707070"/>
<circle cx="515.1" cy="91.0" r="1.85" fill="#666"/>
<circle cx="516.6" cy="126.8" r="2.13" fill="#666"/>
<circle cx="516.6" cy="126.8" r="1.07" fill="#9a9a9a"/>
<circle cx="497.3" cy="129.6" r="1.58" fill="#7a7a7a"/>
<circle cx="497.3" cy="129.6" r="0.79" fill="#9a9a9a"/>
<circle cx="511.0" cy="141.2" r="1.73" fill="#707070"/>
<circle cx="511.0" cy="141.2" r="0.87" fill="#9a9a9a"/>
<circle cx="507.5" cy="92.3" r="1.47" fill="#4e4e4e"/>
<circle cx="507.5" cy="92.3" r="0.74" fill="#9a9a9a"/>
<circle cx="479.5" cy="131.6" r="1.33" fill="#707070"/>
<circle cx="517.7" cy="125.1" r="1.67" fill="#707070"/>
<circle cx="537.8" cy="112.1" r="1.66" fill="#707070"/>
<circle cx="537.8" cy="112.1" r="0.83" fill="#9a9a9a"/>
<circle cx="535.5" cy="99.2" r="1.81" fill="#4e4e4e"/>
<circle cx="519.4" cy="126.8" r="1.96" fill="#707070"/>
<circle cx="484.2" cy="91.2" r="1.90" fill="#707070"/>
<circle cx="539.8" cy="145.7" r="1.28" fill="#7a7a7a"/>
<circle cx="496.1" cy="103.4" r="1.60" fill="#5a5a5a"/>
<circle cx="496.1" cy="103.4" r="0.80" fill="#9a9a9a"/>
<circle cx="505.4" cy="121.2" r="1.39" fill="#666"/>
<circle cx="505.4" cy="121.2" r="0.70" fill="#9a9a9a"/>
<circle cx="530.7" cy="111.3" r="1.69" fill="#7a7a7a"/>
<circle cx="530.7" cy="111.3" r="0.84" fill="#9a9a9a"/>
<circle cx="487.9" cy="141.5" r="1.56" fill="#7a7a7a"/>
<circle cx="537.4" cy="121.1" r="1.54" fill="#666"/>
<circle cx="537.4" cy="121.1" r="0.77" fill="#9a9a9a"/>
<circle cx="488.9" cy="141.8" r="1.23" fill="#666"/>
<circle cx="488.9" cy="141.8" r="0.61" fill="#9a9a9a"/>
<circle cx="510.8" cy="146.0" r="1.23" fill="#7a7a7a"/>
<circle cx="539.6" cy="123.7" r="2.12" fill="#5a5a5a"/>
<circle cx="476.4" cy="118.8" r="1.53" fill="#4e4e4e"/>
<circle cx="476.4" cy="118.8" r="0.77" fill="#9a9a9a"/>
<circle cx="511.6" cy="146.2" r="1.65" fill="#7a7a7a"/>
<circle cx="475.5" cy="119.5" r="1.60" fill="#666"/>
<circle cx="475.5" cy="119.5" r="0.80" fill="#9a9a9a"/>
<circle cx="528.3" cy="121.0" r="1.85" fill="#707070"/>
<circle cx="528.3" cy="121.0" r="0.92" fill="#9a9a9a"/>
<circle cx="502.3" cy="138.9" r="2.00" fill="#7a7a7a"/>
<circle cx="502.3" cy="138.9" r="1.00" fill="#9a9a9a"/>
<circle cx="520.5" cy="89.3" r="1.44" fill="#707070"/>
<circle cx="498.2" cy="129.3" r="2.09" fill="#5a5a5a"/>
<circle cx="484.4" cy="126.0" r="1.26" fill="#7a7a7a"/>
<circle cx="486.9" cy="140.7" r="2.13" fill="#666"/>
<circle cx="476.3" cy="95.8" r="1.65" fill="#4e4e4e"/>
<circle cx="525.4" cy="140.5" r="2.00" fill="#707070"/>
<circle cx="526.2" cy="99.9" r="2.25" fill="#7a7a7a"/>
<circle cx="494.6" cy="126.6" r="1.55" fill="#707070"/>
<circle cx="494.6" cy="126.6" r="0.77" fill="#9a9a9a"/>
<circle cx="512.9" cy="121.8" r="1.74" fill="#7a7a7a"/>
<circle cx="495.0" cy="143.7" r="1.48" fill="#5a5a5a"/>
<circle cx="491.0" cy="122.2" r="2.04" fill="#666"/>
<circle cx="480.9" cy="149.4" r="1.83" fill="#4e4e4e"/>
<circle cx="541.1" cy="108.7" r="1.42" fill="#5a5a5a"/>
<circle cx="536.1" cy="107.1" r="1.16" fill="#707070"/>
<circle cx="507.2" cy="99.7" r="1.36" fill="#5a5a5a"/>
<circle cx="519.8" cy="118.8" r="2.07" fill="#666"/>
<circle cx="520.1" cy="117.1" r="2.03" fill="#707070"/>
<circle cx="531.7" cy="130.9" r="1.81" fill="#666"/>
<circle cx="523.1" cy="151.2" r="1.24" fill="#4e4e4e"/>
<circle cx="523.1" cy="151.2" r="0.62" fill="#9a9a9a"/>
<circle cx="478.9" cy="90.5" r="4.03" fill="#444"/>
<circle cx="485.3" cy="89.4" r="2.07" fill="#4e4e4e"/>
<circle cx="489" cy="90" r="1.95" fill="#5c5c5c"/>
<circle cx="506.6" cy="87.3" r="2.07" fill="#3a3a3a"/>
<circle cx="513" cy="88.9" r="3.78" fill="#4e4e4e"/>
<circle cx="514.6" cy="95.2" r="3.17" fill="#5c5c5c"/>
<circle cx="501.8" cy="92.1" r="1.34" fill="#4e4e4e"/>
<circle cx="496.5" cy="99" r="1.59" fill="#4e4e4e"/>
<circle cx="489" cy="102.7" r="3.29" fill="#383838"/>
<circle cx="515.7" cy="103.8" r="3.29" fill="#383838"/>
<circle cx="531.1" cy="104.3" r="3.17" fill="#444"/>
<circle cx="497.6" cy="104.8" r="2.32" fill="#4e4e4e"/>
<circle cx="505.5" cy="108" r="1.46" fill="#333"/>
<circle cx="506.6" cy="104.3" r="1.10" fill="#4e4e4e"/>
<circle cx="528.4" cy="109.1" r="3.17" fill="#444"/>
<circle cx="531.6" cy="113.9" r="2.56" fill="#4e4e4e"/>
<circle cx="493.3" cy="111.2" r="2.32" fill="#444"/>
<circle cx="516.2" cy="111.8" r="2.32" fill="#4e4e4e"/>
<circle cx="476.8" cy="102.7" r="2.56" fill="#6a6a6a"/>
<circle cx="508.2" cy="116" r="4.27" fill="#5c5c5c"/>
<circle cx="495.4" cy="116.5" r="2.32" fill="#5c5c5c"/>
<circle cx="540.2" cy="92.6" r="1.46" fill="#4e4e4e"/>
<circle cx="538" cy="100" r="1.34" fill="#4e4e4e"/>
<circle cx="541.2" cy="100.6" r="1.22" fill="#4e4e4e"/>
<circle cx="534.8" cy="89.4" r="1.59" fill="#4e4e4e"/>
<circle cx="518.9" cy="95.8" r="1.10" fill="#5c5c5c"/>
<circle cx="524.7" cy="95.2" r="1.10" fill="#5c5c5c"/>
<circle cx="478.4" cy="110.2" r="1.95" fill="#4e4e4e"/>
<circle cx="540.2" cy="109.6" r="1.59" fill="#4e4e4e"/>
<circle cx="492.2" cy="122.8" r="3.17" fill="#444"/>
<circle cx="524.7" cy="122.3" r="2.56" fill="#444"/>
<circle cx="527.4" cy="127" r="3.54" fill="#4e4e4e"/>
<circle cx="537" cy="125.5" r="3.17" fill="#444"/>
<circle cx="504" cy="128.6" r="3.17" fill="#4e4e4e"/>
<circle cx="488" cy="129.2" r="2.56" fill="#333"/>
<circle cx="482.1" cy="130.8" r="2.32" fill="#333"/>
<circle cx="492.8" cy="131.3" r="2.81" fill="#363636"/>
<circle cx="515.7" cy="136.1" r="2.81" fill="#4e4e4e"/>
<circle cx="498.1" cy="137.2" r="1.95" fill="#444"/>
<circle cx="506.1" cy="140.9" r="4.76" fill="#505050"/>
<circle cx="500.2" cy="145.2" r="3.54" fill="#444"/>
<circle cx="488.5" cy="142.5" r="2.81" fill="#444"/>
<circle cx="516.7" cy="146.2" r="2.81" fill="#4e4e4e"/>
<circle cx="530" cy="137.2" r="1.95" fill="#4e4e4e"/>
<circle cx="539.6" cy="146.2" r="2.56" fill="#5c5c5c"/>
<circle cx="533.8" cy="146.8" r="1.59" fill="#5c5c5c"/>
<circle cx="476.8" cy="134" r="1.59" fill="#4e4e4e"/>
<circle cx="476.3" cy="143.6" r="1.59" fill="#4e4e4e"/>
<circle cx="513" cy="122.3" r="1.22" fill="#4e4e4e"/>
<circle cx="515.1" cy="120.1" r="1.10" fill="#4e4e4e"/>
<circle cx="540.2" cy="131.8" r="1.59" fill="#5c5c5c"/>
<circle cx="526.8" cy="151" r="1.59" fill="#5c5c5c"/>
<circle cx="521" cy="130" r="1.34" fill="#5c5c5c"/>
<circle cx="483" cy="118" r="1.46" fill="#5c5c5c"/>
<circle cx="536" cy="118" r="1.34" fill="#5c5c5c"/>
<circle cx="496" cy="93.1" r="2.3" fill="#999" stroke="#6a6a6a" stroke-width="0.87"/>
<circle cx="489" cy="96.3" r="2.6" fill="#8e8e8e" stroke="#6a6a6a" stroke-width="0.99"/>
<circle cx="523.1" cy="103.2" r="2.9" fill="#888" stroke="#5e5e5e" stroke-width="1.10"/>
<circle cx="524.7" cy="111.8" r="2.6" fill="#777" stroke="#555" stroke-width="0.99"/>
<circle cx="511.9" cy="130.8" r="2.3" fill="#8a8a8a" stroke="#5a5a5a" stroke-width="0.87"/>
<circle cx="520.5" cy="143" r="2.1" fill="#a0a0a0" stroke="#666" stroke-width="0.80"/>
<circle cx="527.9" cy="134.5" r="2.3" fill="#999" stroke="#666" stroke-width="0.87"/>
<circle cx="509" cy="147.5" r="1.6" fill="#999" stroke="#666" stroke-width="0.80"/>
<circle cx="486" cy="97" r="0.6" fill="#fafafa"/>
<circle cx="520" cy="112" r="0.6" fill="#fafafa"/>
<circle cx="499.5" cy="118" r="0.6" fill="#fafafa"/>
<circle cx="511" cy="133" r="0.6" fill="#fafafa"/>
</g>
<rect x="477.2" y="148.8" width="17.4" height="1.9" fill="#fff"/>
</g>
<rect x="481.5" y="150.6" width="8" height="2.4" fill="#2a2a2a"/>
</g>
<g id="panel-d">
<text x="550.9" y="11.8" font-size="15.8" text-anchor="start" fill="#000" font-weight="bold">d</text>
<text x="631.1" y="15.0" font-size="11.5" text-anchor="middle" fill="#0d0d0d" font-style="italic">ABCG2</text>
<line x1="593.4" y1="22.9" x2="593.4" y2="138.8" stroke="#000" stroke-width="1"/>
<line x1="592.9" y1="138.3" x2="673.3" y2="138.3" stroke="#000" stroke-width="1"/>
<line x1="590.1999999999999" y1="138.3" x2="593.4" y2="138.3" stroke="#000" stroke-width="1"/>
<text x="589.1" y="141.25" font-size="8.2" text-anchor="end" fill="#0d0d0d">0.0</text>
<line x1="590.1999999999999" y1="100.05000000000001" x2="593.4" y2="100.05000000000001" stroke="#000" stroke-width="1"/>
<text x="589.1" y="103.00000000000001" font-size="8.2" text-anchor="end" fill="#0d0d0d">0.5</text>
<line x1="590.1999999999999" y1="61.80000000000001" x2="593.4" y2="61.80000000000001" stroke="#000" stroke-width="1"/>
<text x="589.1" y="64.75000000000001" font-size="8.2" text-anchor="end" fill="#0d0d0d">1.0</text>
<line x1="590.1999999999999" y1="23.55000000000001" x2="593.4" y2="23.55000000000001" stroke="#000" stroke-width="1"/>
<text x="589.1" y="26.50000000000001" font-size="8.2" text-anchor="end" fill="#0d0d0d">1.5</text>
<rect x="605.8" y="66.1" width="21.8" height="72.2" fill="#D57B63" stroke="#111" stroke-width="1"/>
<rect x="640.0" y="47.0" width="22.4" height="91.3" fill="#3F76A3" stroke="#111" stroke-width="1"/>
<line x1="616.6" y1="59.5" x2="616.6" y2="71.5" stroke="#111" stroke-width="0.9"/>
<line x1="610.9" y1="59.5" x2="622.3000000000001" y2="59.5" stroke="#111" stroke-width="0.9"/>
<line x1="610.9" y1="71.5" x2="622.3000000000001" y2="71.5" stroke="#111" stroke-width="0.9"/>
<line x1="651.8" y1="44.1" x2="651.8" y2="49.8" stroke="#111" stroke-width="0.9"/>
<line x1="646.0" y1="44.1" x2="657.5999999999999" y2="44.1" stroke="#111" stroke-width="0.9"/>
<line x1="646.0" y1="49.8" x2="657.5999999999999" y2="49.8" stroke="#111" stroke-width="0.9"/>
<circle cx="616.3" cy="60.9" r="1.6" fill="#111"/>
<circle cx="619.1" cy="64.8" r="1.6" fill="#111"/>
<circle cx="616.4" cy="73.3" r="1.6" fill="#111"/>
<circle cx="645.8" cy="44.1" r="1.6" fill="#111"/>
<circle cx="656.4" cy="45.3" r="1.6" fill="#111"/>
<circle cx="651.1" cy="49.3" r="1.6" fill="#111"/>
<text x="651.2" y="35.4" font-size="11.4" text-anchor="middle" fill="#0d0d0d" font-weight="bold">**</text>
<text x="616.8" y="150.2" font-size="10.3" text-anchor="middle" fill="#0d0d0d">Low</text>
<text x="651.6" y="150.2" font-size="10.0" text-anchor="middle" fill="#0d0d0d">High</text>
<line x1="607.8" y1="155.0" x2="663.8" y2="155.0" stroke="#111" stroke-width="0.9"/>
<text x="633.1" y="164.9" font-size="8.1" text-anchor="middle" fill="#0d0d0d">HELP R<tspan text-decoration="underline">DG</tspan> matrices</text>
<text x="558.9" y="79.6" font-size="6.7" text-anchor="middle" fill="#1a1a1a" transform="rotate(-90 558.9 79.6)">Relative mRNA concentration</text>
<text x="569.5" y="83" font-size="6.6" text-anchor="middle" fill="#1a1a1a" transform="rotate(-90 569.5 83)">(Normalized to <tspan font-style="italic">GAPDH</tspan> and Cultrex P0)</text>
</g>
<g id="panel-e">
<text x="-0.5" y="191.5" font-size="15.8" text-anchor="start" fill="#000" font-weight="bold">e</text>
<text x="107.0" y="196.4" font-size="10.4" text-anchor="middle" fill="#0d0d0d">Single Cells - P4</text>
<line x1="37" y1="300.55" x2="166.1" y2="300.55" stroke="#808080" stroke-width="0.9" stroke-dasharray="1.8 1.1"/>
<path d="M52.3 230.2 L53.0 230.3 L53.6 230.3 L54.2 230.4 L54.8 230.4 L55.4 230.5 L56.0 230.6 L56.6 230.6 L57.2 230.7 L57.8 230.8 L58.5 230.9 L59.1 231.1 L59.7 231.2 L60.3 231.4 L60.9 231.6 L61.5 231.8 L62.1 232.0 L62.7 232.2 L63.4 232.5 L64.0 232.8 L64.6 233.2 L65.2 233.6 L65.8 234.0 L66.4 234.5 L67.0 235.1 L67.6 235.7 L68.3 236.3 L68.9 237.1 L69.5 237.9 L70.1 238.8 L70.7 239.8 L71.3 240.8 L71.9 242.0 L72.5 243.2 L73.2 244.6 L73.8 246.0 L74.4 247.6 L75.0 249.2 L75.6 251.0 L76.2 252.8 L76.8 254.7 L77.4 256.7 L78.1 258.7 L78.7 260.8 L79.3 262.9 L79.9 265.0 L80.5 267.0 L81.1 269.0 L81.7 271.0 L82.3 272.9 L82.9 274.8 L83.6 276.6 L84.2 278.3 L84.8 280.0 L85.4 281.6 L86.0 283.1 L86.6 284.6 L87.2 285.9 L87.8 287.2 L88.5 288.3 L89.1 289.4 L89.7 290.4 L90.3 291.3 L90.9 292.2 L91.5 293.0 L92.1 293.7 L92.7 294.3 L93.4 294.9 L94.0 295.4 L94.6 295.9 L95.2 296.3 L95.8 296.7 L96.4 297.1 L97.0 297.4 L97.6 297.7 L98.3 298.0 L98.9 298.2 L99.5 298.4 L100.1 298.6 L100.7 298.8 L101.3 298.9 L101.9 299.1 L102.5 299.2 L103.2 299.3 L103.8 299.4 L104.4 299.5 L105.0 299.5 L105.6 299.6 L106.2 299.7 L106.8 299.7 L107.4 299.8 L108.0 299.8 L108.7 299.9 L109.3 299.9 L109.9 299.9 L110.5 300.0 L111.1 300.0 L111.7 300.0 L112.3 300.0 L112.9 300.0 L113.6 300.1 L114.2 300.1 L114.8 300.1 L115.4 300.1 L116.0 300.1 L116.6 300.1 L117.2 300.1 L117.8 300.1 L118.5 300.1 L119.1 300.2 L119.7 300.2 L120.3 300.2 L120.9 300.2 L121.5 300.2 L122.1 300.2 L122.7 300.2 L123.4 300.2 L124.0 300.2 L124.6 300.2 L125.2 300.2 L125.8 300.2 L126.4 300.2 L127.0 300.2 L127.6 300.2 L128.2 300.2 L128.9 300.2 L129.5 300.2 L130.1 300.2 L130.7 300.2 L131.3 300.2 L131.9 300.2 L132.5 300.2 L133.1 300.2 L133.8 300.2 L134.4 300.2 L135.0 300.2 L135.6 300.2 L136.2 300.2 L136.8 300.2 L137.4 300.2 L138.0 300.2 L138.7 300.2 L139.3 300.2 L139.9 300.2 L140.5 300.2 L141.1 300.2 L141.7 300.2 L142.3 300.2 L142.9 300.2 L143.6 300.2 L144.2 300.2 L144.8 300.2 L145.4 300.2 L146.0 300.2 L146.6 300.2 L147.2 300.2 L147.8 300.2 L148.5 300.2 L149.1 300.2 L149.7 300.2 L150.3 300.2 L150.3 300.9 L149.7 300.9 L149.1 300.9 L148.5 300.9 L147.8 300.9 L147.2 300.9 L146.6 300.9 L146.0 300.9 L145.4 300.9 L144.8 300.9 L144.2 300.9 L143.6 300.9 L142.9 300.9 L142.3 300.9 L141.7 300.9 L141.1 300.9 L140.5 300.9 L139.9 300.9 L139.3 300.9 L138.7 300.9 L138.0 300.9 L137.4 300.9 L136.8 300.9 L136.2 300.9 L135.6 300.9 L135.0 300.9 L134.4 300.9 L133.8 300.9 L133.1 300.9 L132.5 300.9 L131.9 300.9 L131.3 300.9 L130.7 300.9 L130.1 300.9 L129.5 300.9 L128.9 300.9 L128.2 300.9 L127.6 300.9 L127.0 300.9 L126.4 300.9 L125.8 300.9 L125.2 300.9 L124.6 300.9 L124.0 300.9 L123.4 300.9 L122.7 300.9 L122.1 300.9 L121.5 300.9 L120.9 300.9 L120.3 300.9 L119.7 300.9 L119.1 300.9 L118.5 300.9 L117.8 300.9 L117.2 300.9 L116.6 300.9 L116.0 300.9 L115.4 300.9 L114.8 300.9 L114.2 300.9 L113.6 300.9 L112.9 300.9 L112.3 300.9 L111.7 300.9 L111.1 300.8 L110.5 300.8 L109.9 300.8 L109.3 300.8 L108.7 300.8 L108.0 300.8 L107.4 300.8 L106.8 300.8 L106.2 300.8 L105.6 300.7 L105.0 300.7 L104.4 300.7 L103.8 300.7 L103.2 300.6 L102.5 300.6 L101.9 300.6 L101.3 300.5 L100.7 300.5 L100.1 300.4 L99.5 300.3 L98.9 300.3 L98.3 300.2 L97.6 300.1 L97.0 300.0 L96.4 299.9 L95.8 299.8 L95.2 299.6 L94.6 299.5 L94.0 299.3 L93.4 299.1 L92.7 298.9 L92.1 298.6 L91.5 298.3 L90.9 298.0 L90.3 297.6 L89.7 297.2 L89.1 296.8 L88.5 296.3 L87.8 295.8 L87.2 295.2 L86.6 294.5 L86.0 293.7 L85.4 292.9 L84.8 292.0 L84.2 291.1 L83.6 290.0 L82.9 288.8 L82.3 287.6 L81.7 286.2 L81.1 284.8 L80.5 283.2 L79.9 281.5 L79.3 279.8 L78.7 278.0 L78.1 276.1 L77.4 274.1 L76.8 272.1 L76.2 270.0 L75.6 267.9 L75.0 265.8 L74.4 263.8 L73.8 261.8 L73.2 259.9 L72.5 258.0 L71.9 256.2 L71.3 254.4 L70.7 252.6 L70.1 251.0 L69.5 249.4 L68.9 247.9 L68.3 246.5 L67.6 245.1 L67.0 243.9 L66.4 242.7 L65.8 241.6 L65.2 240.6 L64.6 239.7 L64.0 238.9 L63.4 238.1 L62.7 237.4 L62.1 236.7 L61.5 236.1 L60.9 235.6 L60.3 235.1 L59.7 234.7 L59.1 234.2 L58.5 233.9 L57.8 233.6 L57.2 233.3 L56.6 233.0 L56.0 232.7 L55.4 232.5 L54.8 232.3 L54.2 232.2 L53.6 232.0 L53.0 231.9 L52.3 231.7 Z" fill="#D57B63" fill-opacity="0.42" stroke="none"/>
<path d="M52.3 230.2 L53.0 230.3 L53.6 230.3 L54.2 230.4 L54.8 230.4 L55.4 230.5 L56.0 230.6 L56.6 230.6 L57.2 230.7 L57.8 230.8 L58.5 230.9 L59.1 231.1 L59.7 231.2 L60.3 231.4 L60.9 231.6 L61.5 231.8 L62.1 232.0 L62.7 232.2 L63.4 232.5 L64.0 232.8 L64.6 233.2 L65.2 233.6 L65.8 234.0 L66.4 234.5 L67.0 235.1 L67.6 235.7 L68.3 236.3 L68.9 237.1 L69.5 237.9 L70.1 238.8 L70.7 239.8 L71.3 240.8 L71.9 242.0 L72.5 243.2 L73.2 244.6 L73.8 246.0 L74.4 247.6 L75.0 249.2 L75.6 251.0 L76.2 252.8 L76.8 254.7 L77.4 256.7 L78.1 258.7 L78.7 260.8 L79.3 262.9 L79.9 265.0 L80.5 267.0 L81.1 269.0 L81.7 271.0 L82.3 272.9 L82.9 274.8 L83.6 276.6 L84.2 278.3 L84.8 280.0 L85.4 281.6 L86.0 283.1 L86.6 284.6 L87.2 285.9 L87.8 287.2 L88.5 288.3 L89.1 289.4 L89.7 290.4 L90.3 291.3 L90.9 292.2 L91.5 293.0 L92.1 293.7 L92.7 294.3 L93.4 294.9 L94.0 295.4 L94.6 295.9 L95.2 296.3 L95.8 296.7 L96.4 297.1 L97.0 297.4 L97.6 297.7 L98.3 298.0 L98.9 298.2 L99.5 298.4 L100.1 298.6 L100.7 298.8 L101.3 298.9 L101.9 299.1 L102.5 299.2 L103.2 299.3 L103.8 299.4 L104.4 299.5 L105.0 299.5 L105.6 299.6 L106.2 299.7 L106.8 299.7 L107.4 299.8 L108.0 299.8 L108.7 299.9 L109.3 299.9 L109.9 299.9 L110.5 300.0 L111.1 300.0 L111.7 300.0 L112.3 300.0 L112.9 300.0 L113.6 300.1 L114.2 300.1 L114.8 300.1 L115.4 300.1 L116.0 300.1 L116.6 300.1 L117.2 300.1 L117.8 300.1 L118.5 300.1 L119.1 300.2 L119.7 300.2 L120.3 300.2 L120.9 300.2 L121.5 300.2 L122.1 300.2 L122.7 300.2 L123.4 300.2 L124.0 300.2 L124.6 300.2 L125.2 300.2 L125.8 300.2 L126.4 300.2 L127.0 300.2 L127.6 300.2 L128.2 300.2 L128.9 300.2 L129.5 300.2 L130.1 300.2 L130.7 300.2 L131.3 300.2 L131.9 300.2 L132.5 300.2 L133.1 300.2 L133.8 300.2 L134.4 300.2 L135.0 300.2 L135.6 300.2 L136.2 300.2 L136.8 300.2 L137.4 300.2 L138.0 300.2 L138.7 300.2 L139.3 300.2 L139.9 300.2 L140.5 300.2 L141.1 300.2 L141.7 300.2 L142.3 300.2 L142.9 300.2 L143.6 300.2 L144.2 300.2 L144.8 300.2 L145.4 300.2 L146.0 300.2 L146.6 300.2 L147.2 300.2 L147.8 300.2 L148.5 300.2 L149.1 300.2 L149.7 300.2 L150.3 300.2" fill="none" stroke="#C9654C" stroke-width="0.6"/>
<path d="M52.3 231.7 L53.0 231.9 L53.6 232.0 L54.2 232.2 L54.8 232.3 L55.4 232.5 L56.0 232.7 L56.6 233.0 L57.2 233.3 L57.8 233.6 L58.5 233.9 L59.1 234.2 L59.7 234.7 L60.3 235.1 L60.9 235.6 L61.5 236.1 L62.1 236.7 L62.7 237.4 L63.4 238.1 L64.0 238.9 L64.6 239.7 L65.2 240.6 L65.8 241.6 L66.4 242.7 L67.0 243.9 L67.6 245.1 L68.3 246.5 L68.9 247.9 L69.5 249.4 L70.1 251.0 L70.7 252.6 L71.3 254.4 L71.9 256.2 L72.5 258.0 L73.2 259.9 L73.8 261.8 L74.4 263.8 L75.0 265.8 L75.6 267.9 L76.2 270.0 L76.8 272.1 L77.4 274.1 L78.1 276.1 L78.7 278.0 L79.3 279.8 L79.9 281.5 L80.5 283.2 L81.1 284.8 L81.7 286.2 L82.3 287.6 L82.9 288.8 L83.6 290.0 L84.2 291.1 L84.8 292.0 L85.4 292.9 L86.0 293.7 L86.6 294.5 L87.2 295.2 L87.8 295.8 L88.5 296.3 L89.1 296.8 L89.7 297.2 L90.3 297.6 L90.9 298.0 L91.5 298.3 L92.1 298.6 L92.7 298.9 L93.4 299.1 L94.0 299.3 L94.6 299.5 L95.2 299.6 L95.8 299.8 L96.4 299.9 L97.0 300.0 L97.6 300.1 L98.3 300.2 L98.9 300.3 L99.5 300.3 L100.1 300.4 L100.7 300.5 L101.3 300.5 L101.9 300.6 L102.5 300.6 L103.2 300.6 L103.8 300.7 L104.4 300.7 L105.0 300.7 L105.6 300.7 L106.2 300.8 L106.8 300.8 L107.4 300.8 L108.0 300.8 L108.7 300.8 L109.3 300.8 L109.9 300.8 L110.5 300.8 L111.1 300.8 L111.7 300.9 L112.3 300.9 L112.9 300.9 L113.6 300.9 L114.2 300.9 L114.8 300.9 L115.4 300.9 L116.0 300.9 L116.6 300.9 L117.2 300.9 L117.8 300.9 L118.5 300.9 L119.1 300.9 L119.7 300.9 L120.3 300.9 L120.9 300.9 L121.5 300.9 L122.1 300.9 L122.7 300.9 L123.4 300.9 L124.0 300.9 L124.6 300.9 L125.2 300.9 L125.8 300.9 L126.4 300.9 L127.0 300.9 L127.6 300.9 L128.2 300.9 L128.9 300.9 L129.5 300.9 L130.1 300.9 L130.7 300.9 L131.3 300.9 L131.9 300.9 L132.5 300.9 L133.1 300.9 L133.8 300.9 L134.4 300.9 L135.0 300.9 L135.6 300.9 L136.2 300.9 L136.8 300.9 L137.4 300.9 L138.0 300.9 L138.7 300.9 L139.3 300.9 L139.9 300.9 L140.5 300.9 L141.1 300.9 L141.7 300.9 L142.3 300.9 L142.9 300.9 L143.6 300.9 L144.2 300.9 L144.8 300.9 L145.4 300.9 L146.0 300.9 L146.6 300.9 L147.2 300.9 L147.8 300.9 L148.5 300.9 L149.1 300.9 L149.7 300.9 L150.3 300.9" fill="none" stroke="#C9654C" stroke-width="0.6"/>
<path d="M52.3 230.9 L53.0 231.0 L53.6 231.0 L54.2 231.1 L54.8 231.2 L55.4 231.4 L56.0 231.5 L56.6 231.6 L57.2 231.8 L57.8 232.0 L58.5 232.2 L59.1 232.4 L59.7 232.6 L60.3 232.9 L60.9 233.2 L61.5 233.6 L62.1 234.0 L62.7 234.4 L63.4 234.8 L64.0 235.4 L64.6 235.9 L65.2 236.6 L65.8 237.3 L66.4 238.0 L67.0 238.9 L67.6 239.8 L68.3 240.8 L68.9 241.8 L69.5 243.0 L70.1 244.3 L70.7 245.6 L71.3 247.1 L71.9 248.6 L72.5 250.2 L73.2 251.9 L73.8 253.7 L74.4 255.5 L75.0 257.4 L75.6 259.4 L76.2 261.4 L76.8 263.4 L77.4 265.4 L78.1 267.5 L78.7 269.5 L79.3 271.5 L79.9 273.5 L80.5 275.4 L81.1 277.2 L81.7 279.0 L82.3 280.7 L82.9 282.3 L83.6 283.8 L84.2 285.3 L84.8 286.6 L85.4 287.9 L86.0 289.0 L86.6 290.1 L87.2 291.1 L87.8 292.0 L88.5 292.8 L89.1 293.6 L89.7 294.3 L90.3 294.9 L90.9 295.5 L91.5 296.0 L92.1 296.5 L92.7 296.9 L93.4 297.3 L94.0 297.6 L94.6 297.9 L95.2 298.2 L95.8 298.5 L96.4 298.7 L97.0 298.9 L97.6 299.1 L98.3 299.2 L98.9 299.4 L99.5 299.5 L100.1 299.6 L100.7 299.7 L101.3 299.8 L101.9 299.9 L102.5 300.0 L103.2 300.0 L103.8 300.1 L104.4 300.1 L105.0 300.2 L105.6 300.2 L106.2 300.3 L106.8 300.3 L107.4 300.3 L108.0 300.3 L108.7 300.4 L109.3 300.4 L109.9 300.4 L110.5 300.4 L111.1 300.4 L111.7 300.4 L112.3 300.5 L112.9 300.5 L113.6 300.5 L114.2 300.5 L114.8 300.5 L115.4 300.5 L116.0 300.5 L116.6 300.5 L117.2 300.5 L117.8 300.5 L118.5 300.5 L119.1 300.5 L119.7 300.5 L120.3 300.5 L120.9 300.5 L121.5 300.5 L122.1 300.5 L122.7 300.5 L123.4 300.5 L124.0 300.5 L124.6 300.5 L125.2 300.5 L125.8 300.5 L126.4 300.5 L127.0 300.5 L127.6 300.5 L128.2 300.5 L128.9 300.5 L129.5 300.5 L130.1 300.5 L130.7 300.5 L131.3 300.5 L131.9 300.5 L132.5 300.5 L133.1 300.5 L133.8 300.5 L134.4 300.5 L135.0 300.5 L135.6 300.5 L136.2 300.5 L136.8 300.5 L137.4 300.5 L138.0 300.5 L138.7 300.5 L139.3 300.5 L139.9 300.5 L140.5 300.5 L141.1 300.5 L141.7 300.5 L142.3 300.5 L142.9 300.5 L143.6 300.5 L144.2 300.5 L144.8 300.5 L145.4 300.5 L146.0 300.5 L146.6 300.5 L147.2 300.5 L147.8 300.5 L148.5 300.5 L149.1 300.5 L149.7 300.5 L150.3 300.5" fill="none" stroke="#C9654C" stroke-width="0.6"/>
<path d="M52.3 230.1 L53.0 230.1 L53.6 230.1 L54.2 230.1 L54.8 230.2 L55.4 230.2 L56.0 230.2 L56.6 230.2 L57.2 230.2 L57.8 230.3 L58.5 230.3 L59.1 230.3 L59.7 230.4 L60.3 230.4 L60.9 230.5 L61.5 230.5 L62.1 230.6 L62.7 230.6 L63.4 230.7 L64.0 230.8 L64.6 230.9 L65.2 231.0 L65.8 231.1 L66.4 231.2 L67.0 231.3 L67.6 231.4 L68.3 231.6 L68.9 231.7 L69.5 231.9 L70.1 232.1 L70.7 232.3 L71.3 232.5 L71.9 232.7 L72.5 233.0 L73.2 233.3 L73.8 233.6 L74.4 234.0 L75.0 234.3 L75.6 234.8 L76.2 235.2 L76.8 235.7 L77.4 236.2 L78.1 236.8 L78.7 237.4 L79.3 238.0 L79.9 238.7 L80.5 239.5 L81.1 240.3 L81.7 241.2 L82.3 242.1 L82.9 243.1 L83.6 244.1 L84.2 245.2 L84.8 246.4 L85.4 247.6 L86.0 248.9 L86.6 250.3 L87.2 251.7 L87.8 253.1 L88.5 254.6 L89.1 256.2 L89.7 257.7 L90.3 259.4 L90.9 261.0 L91.5 262.6 L92.1 264.3 L92.7 265.8 L93.4 267.2 L94.0 268.5 L94.6 269.8 L95.2 271.2 L95.8 272.5 L96.4 273.8 L97.0 275.0 L97.6 276.3 L98.3 277.5 L98.9 278.6 L99.5 279.8 L100.1 280.9 L100.7 281.9 L101.3 282.9 L101.9 283.9 L102.5 284.9 L103.2 285.8 L103.8 286.6 L104.4 287.5 L105.0 288.3 L105.6 289.0 L106.2 289.7 L106.8 290.4 L107.4 291.0 L108.0 291.6 L108.7 292.2 L109.3 292.7 L109.9 293.2 L110.5 293.7 L111.1 294.1 L111.7 294.5 L112.3 294.9 L112.9 295.3 L113.6 295.6 L114.2 295.9 L114.8 296.2 L115.4 296.5 L116.0 296.8 L116.6 297.0 L117.2 297.3 L117.8 297.5 L118.5 297.7 L119.1 297.8 L119.7 298.0 L120.3 298.2 L120.9 298.3 L121.5 298.5 L122.1 298.6 L122.7 298.7 L123.4 298.8 L124.0 298.9 L124.6 299.0 L125.2 299.1 L125.8 299.2 L126.4 299.2 L127.0 299.3 L127.6 299.4 L128.2 299.4 L128.9 299.5 L129.5 299.5 L130.1 299.6 L130.7 299.6 L131.3 299.7 L131.9 299.7 L132.5 299.8 L133.1 299.8 L133.8 299.8 L134.4 299.8 L135.0 299.9 L135.6 299.9 L136.2 299.9 L136.8 299.9 L137.4 300.0 L138.0 300.0 L138.7 300.0 L139.3 300.0 L139.9 300.0 L140.5 300.0 L141.1 300.0 L141.7 300.1 L142.3 300.1 L142.9 300.1 L143.6 300.1 L144.2 300.1 L144.8 300.1 L145.4 300.1 L146.0 300.1 L146.6 300.1 L147.2 300.1 L147.8 300.1 L148.5 300.1 L149.1 300.1 L149.7 300.1 L150.3 300.2 L150.3 300.9 L149.7 300.9 L149.1 300.9 L148.5 300.9 L147.8 300.9 L147.2 300.9 L146.6 300.9 L146.0 300.9 L145.4 300.9 L144.8 300.9 L144.2 300.9 L143.6 300.9 L142.9 300.9 L142.3 300.9 L141.7 300.9 L141.1 300.9 L140.5 300.9 L139.9 300.9 L139.3 300.9 L138.7 300.9 L138.0 300.9 L137.4 300.9 L136.8 300.9 L136.2 300.8 L135.6 300.8 L135.0 300.8 L134.4 300.8 L133.8 300.8 L133.1 300.8 L132.5 300.8 L131.9 300.8 L131.3 300.8 L130.7 300.8 L130.1 300.8 L129.5 300.8 L128.9 300.8 L128.2 300.7 L127.6 300.7 L127.0 300.7 L126.4 300.7 L125.8 300.7 L125.2 300.6 L124.6 300.6 L124.0 300.6 L123.4 300.6 L122.7 300.5 L122.1 300.5 L121.5 300.5 L120.9 300.4 L120.3 300.4 L119.7 300.3 L119.1 300.3 L118.5 300.2 L117.8 300.2 L117.2 300.1 L116.6 300.0 L116.0 300.0 L115.4 299.9 L114.8 299.8 L114.2 299.7 L113.6 299.6 L112.9 299.5 L112.3 299.3 L111.7 299.2 L111.1 299.1 L110.5 298.9 L109.9 298.7 L109.3 298.5 L108.7 298.3 L108.0 298.1 L107.4 297.8 L106.8 297.6 L106.2 297.3 L105.6 297.0 L105.0 296.6 L104.4 296.2 L103.8 295.9 L103.2 295.4 L102.5 295.0 L101.9 294.5 L101.3 293.9 L100.7 293.4 L100.1 292.8 L99.5 292.1 L98.9 291.4 L98.3 290.7 L97.6 289.9 L97.0 289.0 L96.4 288.1 L95.8 287.2 L95.2 286.2 L94.6 285.2 L94.0 284.1 L93.4 282.9 L92.7 281.7 L92.1 280.5 L91.5 279.2 L90.9 277.8 L90.3 276.5 L89.7 275.1 L89.1 273.6 L88.5 272.1 L87.8 270.6 L87.2 269.1 L86.6 267.6 L86.0 266.0 L85.4 264.9 L84.8 263.9 L84.2 262.8 L83.6 261.8 L82.9 260.8 L82.3 259.8 L81.7 258.8 L81.1 257.8 L80.5 256.8 L79.9 255.8 L79.3 254.9 L78.7 254.0 L78.1 253.0 L77.4 252.2 L76.8 251.3 L76.2 250.4 L75.6 249.6 L75.0 248.8 L74.4 248.0 L73.8 247.2 L73.2 246.5 L72.5 245.8 L71.9 245.1 L71.3 244.4 L70.7 243.8 L70.1 243.2 L69.5 242.6 L68.9 242.0 L68.3 241.4 L67.6 240.9 L67.0 240.4 L66.4 239.9 L65.8 239.5 L65.2 239.0 L64.6 238.6 L64.0 238.2 L63.4 237.8 L62.7 237.4 L62.1 237.1 L61.5 236.7 L60.9 236.4 L60.3 236.1 L59.7 235.8 L59.1 235.5 L58.5 235.3 L57.8 235.0 L57.2 234.8 L56.6 234.6 L56.0 234.3 L55.4 234.1 L54.8 234.0 L54.2 233.8 L53.6 233.6 L53.0 233.4 L52.3 233.3 Z" fill="#3F76A3" fill-opacity="0.45" stroke="none"/>
<path d="M52.3 230.1 L53.0 230.1 L53.6 230.1 L54.2 230.1 L54.8 230.2 L55.4 230.2 L56.0 230.2 L56.6 230.2 L57.2 230.2 L57.8 230.3 L58.5 230.3 L59.1 230.3 L59.7 230.4 L60.3 230.4 L60.9 230.5 L61.5 230.5 L62.1 230.6 L62.7 230.6 L63.4 230.7 L64.0 230.8 L64.6 230.9 L65.2 231.0 L65.8 231.1 L66.4 231.2 L67.0 231.3 L67.6 231.4 L68.3 231.6 L68.9 231.7 L69.5 231.9 L70.1 232.1 L70.7 232.3 L71.3 232.5 L71.9 232.7 L72.5 233.0 L73.2 233.3 L73.8 233.6 L74.4 234.0 L75.0 234.3 L75.6 234.8 L76.2 235.2 L76.8 235.7 L77.4 236.2 L78.1 236.8 L78.7 237.4 L79.3 238.0 L79.9 238.7 L80.5 239.5 L81.1 240.3 L81.7 241.2 L82.3 242.1 L82.9 243.1 L83.6 244.1 L84.2 245.2 L84.8 246.4 L85.4 247.6 L86.0 248.9 L86.6 250.3 L87.2 251.7 L87.8 253.1 L88.5 254.6 L89.1 256.2 L89.7 257.7 L90.3 259.4 L90.9 261.0 L91.5 262.6 L92.1 264.3 L92.7 265.8 L93.4 267.2 L94.0 268.5 L94.6 269.8 L95.2 271.2 L95.8 272.5 L96.4 273.8 L97.0 275.0 L97.6 276.3 L98.3 277.5 L98.9 278.6 L99.5 279.8 L100.1 280.9 L100.7 281.9 L101.3 282.9 L101.9 283.9 L102.5 284.9 L103.2 285.8 L103.8 286.6 L104.4 287.5 L105.0 288.3 L105.6 289.0 L106.2 289.7 L106.8 290.4 L107.4 291.0 L108.0 291.6 L108.7 292.2 L109.3 292.7 L109.9 293.2 L110.5 293.7 L111.1 294.1 L111.7 294.5 L112.3 294.9 L112.9 295.3 L113.6 295.6 L114.2 295.9 L114.8 296.2 L115.4 296.5 L116.0 296.8 L116.6 297.0 L117.2 297.3 L117.8 297.5 L118.5 297.7 L119.1 297.8 L119.7 298.0 L120.3 298.2 L120.9 298.3 L121.5 298.5 L122.1 298.6 L122.7 298.7 L123.4 298.8 L124.0 298.9 L124.6 299.0 L125.2 299.1 L125.8 299.2 L126.4 299.2 L127.0 299.3 L127.6 299.4 L128.2 299.4 L128.9 299.5 L129.5 299.5 L130.1 299.6 L130.7 299.6 L131.3 299.7 L131.9 299.7 L132.5 299.8 L133.1 299.8 L133.8 299.8 L134.4 299.8 L135.0 299.9 L135.6 299.9 L136.2 299.9 L136.8 299.9 L137.4 300.0 L138.0 300.0 L138.7 300.0 L139.3 300.0 L139.9 300.0 L140.5 300.0 L141.1 300.0 L141.7 300.1 L142.3 300.1 L142.9 300.1 L143.6 300.1 L144.2 300.1 L144.8 300.1 L145.4 300.1 L146.0 300.1 L146.6 300.1 L147.2 300.1 L147.8 300.1 L148.5 300.1 L149.1 300.1 L149.7 300.1 L150.3 300.2" fill="none" stroke="#2F6492" stroke-width="0.6"/>
<path d="M52.3 233.3 L53.0 233.4 L53.6 233.6 L54.2 233.8 L54.8 234.0 L55.4 234.1 L56.0 234.3 L56.6 234.6 L57.2 234.8 L57.8 235.0 L58.5 235.3 L59.1 235.5 L59.7 235.8 L60.3 236.1 L60.9 236.4 L61.5 236.7 L62.1 237.1 L62.7 237.4 L63.4 237.8 L64.0 238.2 L64.6 238.6 L65.2 239.0 L65.8 239.5 L66.4 239.9 L67.0 240.4 L67.6 240.9 L68.3 241.4 L68.9 242.0 L69.5 242.6 L70.1 243.2 L70.7 243.8 L71.3 244.4 L71.9 245.1 L72.5 245.8 L73.2 246.5 L73.8 247.2 L74.4 248.0 L75.0 248.8 L75.6 249.6 L76.2 250.4 L76.8 251.3 L77.4 252.2 L78.1 253.0 L78.7 254.0 L79.3 254.9 L79.9 255.8 L80.5 256.8 L81.1 257.8 L81.7 258.8 L82.3 259.8 L82.9 260.8 L83.6 261.8 L84.2 262.8 L84.8 263.9 L85.4 264.9 L86.0 266.0 L86.6 267.6 L87.2 269.1 L87.8 270.6 L88.5 272.1 L89.1 273.6 L89.7 275.1 L90.3 276.5 L90.9 277.8 L91.5 279.2 L92.1 280.5 L92.7 281.7 L93.4 282.9 L94.0 284.1 L94.6 285.2 L95.2 286.2 L95.8 287.2 L96.4 288.1 L97.0 289.0 L97.6 289.9 L98.3 290.7 L98.9 291.4 L99.5 292.1 L100.1 292.8 L100.7 293.4 L101.3 293.9 L101.9 294.5 L102.5 295.0 L103.2 295.4 L103.8 295.9 L104.4 296.2 L105.0 296.6 L105.6 297.0 L106.2 297.3 L106.8 297.6 L107.4 297.8 L108.0 298.1 L108.7 298.3 L109.3 298.5 L109.9 298.7 L110.5 298.9 L111.1 299.1 L111.7 299.2 L112.3 299.3 L112.9 299.5 L113.6 299.6 L114.2 299.7 L114.8 299.8 L115.4 299.9 L116.0 300.0 L116.6 300.0 L117.2 300.1 L117.8 300.2 L118.5 300.2 L119.1 300.3 L119.7 300.3 L120.3 300.4 L120.9 300.4 L121.5 300.5 L122.1 300.5 L122.7 300.5 L123.4 300.6 L124.0 300.6 L124.6 300.6 L125.2 300.6 L125.8 300.7 L126.4 300.7 L127.0 300.7 L127.6 300.7 L128.2 300.7 L128.9 300.8 L129.5 300.8 L130.1 300.8 L130.7 300.8 L131.3 300.8 L131.9 300.8 L132.5 300.8 L133.1 300.8 L133.8 300.8 L134.4 300.8 L135.0 300.8 L135.6 300.8 L136.2 300.8 L136.8 300.9 L137.4 300.9 L138.0 300.9 L138.7 300.9 L139.3 300.9 L139.9 300.9 L140.5 300.9 L141.1 300.9 L141.7 300.9 L142.3 300.9 L142.9 300.9 L143.6 300.9 L144.2 300.9 L144.8 300.9 L145.4 300.9 L146.0 300.9 L146.6 300.9 L147.2 300.9 L147.8 300.9 L148.5 300.9 L149.1 300.9 L149.7 300.9 L150.3 300.9" fill="none" stroke="#2F6492" stroke-width="0.6"/>
<path d="M52.3 231.0 L53.0 231.1 L53.6 231.1 L54.2 231.2 L54.8 231.2 L55.4 231.3 L56.0 231.4 L56.6 231.5 L57.2 231.6 L57.8 231.7 L58.5 231.8 L59.1 231.9 L59.7 232.0 L60.3 232.2 L60.9 232.3 L61.5 232.5 L62.1 232.6 L62.7 232.8 L63.4 233.0 L64.0 233.2 L64.6 233.4 L65.2 233.7 L65.8 233.9 L66.4 234.2 L67.0 234.5 L67.6 234.8 L68.3 235.1 L68.9 235.5 L69.5 235.9 L70.1 236.3 L70.7 236.7 L71.3 237.2 L71.9 237.7 L72.5 238.2 L73.2 238.8 L73.8 239.3 L74.4 240.0 L75.0 240.6 L75.6 241.3 L76.2 242.1 L76.8 242.8 L77.4 243.6 L78.1 244.5 L78.7 245.4 L79.3 246.3 L79.9 247.3 L80.5 248.3 L81.1 249.3 L81.7 250.4 L82.3 251.5 L82.9 252.7 L83.6 253.9 L84.2 255.1 L84.8 256.3 L85.4 257.6 L86.0 258.9 L86.6 260.2 L87.2 261.5 L87.8 262.8 L88.5 264.2 L89.1 265.5 L89.7 266.9 L90.3 268.2 L90.9 269.6 L91.5 270.9 L92.1 272.2 L92.7 273.5 L93.4 274.7 L94.0 276.0 L94.6 277.2 L95.2 278.4 L95.8 279.5 L96.4 280.6 L97.0 281.7 L97.6 282.7 L98.3 283.7 L98.9 284.7 L99.5 285.6 L100.1 286.5 L100.7 287.4 L101.3 288.2 L101.9 288.9 L102.5 289.6 L103.2 290.3 L103.8 291.0 L104.4 291.6 L105.0 292.2 L105.6 292.7 L106.2 293.3 L106.8 293.7 L107.4 294.2 L108.0 294.6 L108.7 295.0 L109.3 295.4 L109.9 295.8 L110.5 296.1 L111.1 296.4 L111.7 296.7 L112.3 297.0 L112.9 297.2 L113.6 297.4 L114.2 297.7 L114.8 297.9 L115.4 298.1 L116.0 298.2 L116.6 298.4 L117.2 298.6 L117.8 298.7 L118.5 298.8 L119.1 299.0 L119.7 299.1 L120.3 299.2 L120.9 299.3 L121.5 299.4 L122.1 299.5 L122.7 299.5 L123.4 299.6 L124.0 299.7 L124.6 299.7 L125.2 299.8 L125.8 299.9 L126.4 299.9 L127.0 300.0 L127.6 300.0 L128.2 300.0 L128.9 300.1 L129.5 300.1 L130.1 300.1 L130.7 300.2 L131.3 300.2 L131.9 300.2 L132.5 300.3 L133.1 300.3 L133.8 300.3 L134.4 300.3 L135.0 300.3 L135.6 300.3 L136.2 300.4 L136.8 300.4 L137.4 300.4 L138.0 300.4 L138.7 300.4 L139.3 300.4 L139.9 300.4 L140.5 300.4 L141.1 300.4 L141.7 300.5 L142.3 300.5 L142.9 300.5 L143.6 300.5 L144.2 300.5 L144.8 300.5 L145.4 300.5 L146.0 300.5 L146.6 300.5 L147.2 300.5 L147.8 300.5 L148.5 300.5 L149.1 300.5 L149.7 300.5 L150.3 300.5" fill="none" stroke="#2F6492" stroke-width="0.6"/>
<line x1="52.34" y1="217.37" x2="52.34" y2="227.21" stroke="#D57B63" stroke-width="0.7"/>
<line x1="50.74" y1="217.37" x2="53.94" y2="217.37" stroke="#D57B63" stroke-width="0.7"/>
<line x1="50.74" y1="227.21" x2="53.94" y2="227.21" stroke="#D57B63" stroke-width="0.7"/>
<circle cx="52.34" cy="222.29" r="1.55" fill="#D57B63"/>
<line x1="52.34" y1="215.55" x2="52.34" y2="221.17" stroke="#3F76A3" stroke-width="0.7"/>
<line x1="50.74" y1="215.55" x2="53.94" y2="215.55" stroke="#3F76A3" stroke-width="0.7"/>
<line x1="50.74" y1="221.17" x2="53.94" y2="221.17" stroke="#3F76A3" stroke-width="0.7"/>
<circle cx="52.34" cy="218.36" r="1.55" fill="#3F76A3"/>
<circle cx="69.15" cy="225.87" r="1.55" fill="#3F76A3"/>
<circle cx="85.39" cy="289.66" r="1.55" fill="#D57B63"/>
<circle cx="85.39" cy="261.21" r="1.55" fill="#3F76A3"/>
<circle cx="95.50" cy="295.77" r="1.55" fill="#D57B63"/>
<circle cx="95.50" cy="284.39" r="1.55" fill="#3F76A3"/>
<circle cx="101.30" cy="297.74" r="1.55" fill="#D57B63"/>
<circle cx="101.30" cy="287.48" r="1.55" fill="#3F76A3"/>
<circle cx="111.25" cy="297.53" r="1.55" fill="#D57B63"/>
<circle cx="111.25" cy="289.38" r="1.55" fill="#3F76A3"/>
<circle cx="118.26" cy="297.95" r="1.55" fill="#D57B63"/>
<circle cx="118.26" cy="289.87" r="1.55" fill="#3F76A3"/>
<circle cx="150.12" cy="299.15" r="1.55" fill="#D57B63"/>
<circle cx="150.12" cy="291.77" r="1.55" fill="#3F76A3"/>
<line x1="36.7" y1="208.9" x2="36.7" y2="315.4" stroke="#000" stroke-width="1"/>
<line x1="36.2" y1="314.9" x2="166.1" y2="314.9" stroke="#000" stroke-width="1"/>
<line x1="34.4" y1="300.55" x2="37" y2="300.55" stroke="#000" stroke-width="1"/>
<text x="32.5" y="303.45" font-size="8.0" text-anchor="end" fill="#0d0d0d">0.0</text>
<line x1="34.4" y1="265.425" x2="37" y2="265.425" stroke="#000" stroke-width="1"/>
<text x="32.5" y="268.325" font-size="8.0" text-anchor="end" fill="#0d0d0d">0.5</text>
<line x1="34.4" y1="230.3" x2="37" y2="230.3" stroke="#000" stroke-width="1"/>
<text x="32.5" y="233.20000000000002" font-size="8.0" text-anchor="end" fill="#0d0d0d">1.0</text>
<line x1="35.3" y1="314.6" x2="37" y2="314.6" stroke="#000" stroke-width="0.9"/>
<line x1="35.3" y1="307.57" x2="37" y2="307.57" stroke="#000" stroke-width="0.9"/>
<line x1="35.3" y1="293.53" x2="37" y2="293.53" stroke="#000" stroke-width="0.9"/>
<line x1="35.3" y1="286.5" x2="37" y2="286.5" stroke="#000" stroke-width="0.9"/>
<line x1="35.3" y1="279.48" x2="37" y2="279.48" stroke="#000" stroke-width="0.9"/>
<line x1="35.3" y1="272.45" x2="37" y2="272.45" stroke="#000" stroke-width="0.9"/>
<line x1="35.3" y1="258.4" x2="37" y2="258.4" stroke="#000" stroke-width="0.9"/>
<line x1="35.3" y1="251.38" x2="37" y2="251.38" stroke="#000" stroke-width="0.9"/>
<line x1="35.3" y1="244.35" x2="37" y2="244.35" stroke="#000" stroke-width="0.9"/>
<line x1="35.3" y1="237.33" x2="37" y2="237.33" stroke="#000" stroke-width="0.9"/>
<line x1="35.3" y1="223.28" x2="37" y2="223.28" stroke="#000" stroke-width="0.9"/>
<line x1="35.3" y1="216.25" x2="37" y2="216.25" stroke="#000" stroke-width="0.9"/>
<line x1="35.3" y1="209.23" x2="37" y2="209.23" stroke="#000" stroke-width="0.9"/>
<line x1="37.0" y1="314.9" x2="37.0" y2="316.4" stroke="#000" stroke-width="1"/>
<text x="37.0" y="325.5" font-size="8.4" text-anchor="middle" fill="#0d0d0d">1</text>
<line x1="69.15" y1="314.9" x2="69.15" y2="316.4" stroke="#000" stroke-width="1"/>
<text x="69.15" y="325.5" font-size="8.4" text-anchor="middle" fill="#0d0d0d">10</text>
<line x1="101.3" y1="314.9" x2="101.3" y2="316.4" stroke="#000" stroke-width="1"/>
<text x="101.3" y="325.5" font-size="8.4" text-anchor="middle" fill="#0d0d0d">100</text>
<line x1="133.45" y1="314.9" x2="133.45" y2="316.4" stroke="#000" stroke-width="1"/>
<text x="133.45" y="325.5" font-size="8.4" text-anchor="middle" fill="#0d0d0d">1000</text>
<line x1="165.6" y1="314.9" x2="165.6" y2="316.4" stroke="#000" stroke-width="1"/>
<text x="165.6" y="325.5" font-size="8.4" text-anchor="middle" fill="#0d0d0d">10000</text>
<text x="102.3" y="336.2" font-size="8.36" text-anchor="middle" fill="#0d0d0d">Gemcitabine concentration (nM)</text>
<text x="14.0" y="257.6" font-size="8.7" text-anchor="middle" fill="#0d0d0d" transform="rotate(-90 14.0 257.6)">Normalized cell viability</text>
<line x1="107" y1="219.4" x2="113" y2="219.4" stroke="#D57B63" stroke-width="0.6"/>
<circle cx="110" cy="219.4" r="1.15" fill="#D57B63"/>
<text x="115" y="221.8" font-size="6.62" text-anchor="start" fill="#0d0d0d">HELP R<tspan text-decoration="underline">DG</tspan> Low</text>
<line x1="107" y1="229.6" x2="113" y2="229.6" stroke="#3F76A3" stroke-width="0.6"/>
<circle cx="110" cy="229.6" r="1.15" fill="#3F76A3"/>
<text x="115" y="232.0" font-size="6.62" text-anchor="start" fill="#0d0d0d">HELP R<tspan text-decoration="underline">DG</tspan> High</text>
<text x="286.55" y="195.7" font-size="10.4" text-anchor="middle" fill="#0d0d0d">Organoids - P4</text>
<line x1="220.3" y1="300.55" x2="349.4" y2="300.55" stroke="#808080" stroke-width="0.9" stroke-dasharray="1.8 1.1"/>
<path d="M235.6 300.0 L236.3 300.0 L236.9 300.0 L237.5 299.9 L238.1 299.9 L238.8 299.9 L239.4 299.8 L240.0 299.7 L240.6 299.7 L241.3 299.6 L241.9 299.5 L242.5 299.4 L243.1 299.3 L243.7 299.2 L244.4 299.1 L245.0 298.9 L245.6 298.7 L246.2 298.5 L246.9 298.3 L247.5 298.0 L248.1 297.7 L248.7 297.4 L249.4 297.0 L250.0 296.6 L250.6 296.1 L251.2 295.6 L251.8 295.0 L252.5 294.4 L253.1 293.7 L253.7 292.9 L254.3 292.1 L255.0 291.3 L255.6 290.4 L256.2 289.4 L256.8 288.3 L257.5 287.2 L258.1 286.0 L258.7 284.8 L259.3 283.4 L260.0 281.9 L260.6 280.4 L261.2 278.7 L261.8 277.0 L262.4 275.2 L263.1 273.3 L263.7 271.3 L264.3 269.3 L264.9 267.2 L265.6 265.1 L266.2 262.4 L266.8 259.6 L267.4 256.9 L268.1 254.3 L268.7 251.8 L269.3 249.4 L269.9 247.2 L270.6 245.2 L271.2 243.3 L271.8 241.6 L272.4 240.1 L273.0 238.7 L273.7 237.4 L274.3 236.2 L274.9 235.2 L275.5 234.2 L276.2 233.3 L276.8 232.4 L277.4 231.6 L278.0 230.9 L278.7 230.2 L279.3 229.6 L279.9 229.1 L280.5 228.6 L281.2 228.2 L281.8 227.9 L282.4 227.8 L283.0 227.7 L283.6 227.7 L284.3 227.7 L284.9 227.9 L285.5 228.1 L286.1 228.3 L286.8 228.5 L287.4 228.7 L288.0 229.0 L288.6 229.2 L289.3 229.4 L289.9 229.5 L290.5 229.7 L291.1 229.8 L291.7 229.8 L292.4 229.9 L293.0 230.0 L293.6 230.0 L294.2 230.0 L294.9 230.0 L295.5 230.0 L296.1 230.0 L296.7 230.0 L297.4 230.0 L298.0 230.0 L298.6 230.0 L299.2 230.0 L299.9 230.0 L300.5 230.0 L301.1 230.0 L301.7 230.0 L302.3 230.0 L303.0 230.0 L303.6 230.0 L304.2 230.0 L304.8 230.0 L305.5 230.0 L306.1 230.0 L306.7 230.0 L307.3 230.0 L308.0 230.0 L308.6 230.0 L309.2 230.0 L309.8 230.0 L310.5 230.0 L311.1 230.0 L311.7 230.0 L312.3 230.0 L312.9 230.0 L313.6 230.0 L314.2 230.0 L314.8 230.0 L315.4 230.0 L316.1 230.0 L316.7 230.0 L317.3 230.0 L317.9 230.0 L318.6 230.0 L319.2 230.0 L319.8 230.0 L320.4 230.0 L321.1 230.0 L321.7 230.0 L322.3 230.0 L322.9 230.0 L323.5 230.0 L324.2 230.0 L324.8 230.0 L325.4 230.0 L326.0 230.0 L326.7 230.0 L327.3 230.0 L327.9 230.0 L328.5 230.0 L329.2 230.0 L329.8 230.0 L330.4 230.0 L331.0 230.0 L331.6 230.0 L332.3 230.0 L332.9 230.0 L333.5 230.0 L334.1 230.0 L334.8 230.0 L335.4 230.0 L335.4 230.6 L334.8 230.6 L334.1 230.6 L333.5 230.6 L332.9 230.6 L332.3 230.6 L331.6 230.6 L331.0 230.6 L330.4 230.6 L329.8 230.6 L329.2 230.6 L328.5 230.6 L327.9 230.6 L327.3 230.6 L326.7 230.6 L326.0 230.6 L325.4 230.6 L324.8 230.6 L324.2 230.6 L323.5 230.6 L322.9 230.6 L322.3 230.6 L321.7 230.6 L321.1 230.6 L320.4 230.6 L319.8 230.6 L319.2 230.6 L318.6 230.6 L317.9 230.6 L317.3 230.6 L316.7 230.6 L316.1 230.6 L315.4 230.6 L314.8 230.6 L314.2 230.6 L313.6 230.6 L312.9 230.6 L312.3 230.6 L311.7 230.6 L311.1 230.6 L310.5 230.6 L309.8 230.6 L309.2 230.6 L308.6 230.6 L308.0 230.7 L307.3 230.7 L306.7 230.7 L306.1 230.7 L305.5 230.7 L304.8 230.7 L304.2 230.7 L303.6 230.7 L303.0 230.8 L302.3 230.8 L301.7 230.8 L301.1 230.8 L300.5 230.9 L299.9 230.9 L299.2 230.9 L298.6 231.0 L298.0 231.0 L297.4 231.1 L296.7 231.1 L296.1 231.2 L295.5 231.3 L294.9 231.4 L294.2 231.5 L293.6 231.6 L293.0 231.7 L292.4 231.8 L291.7 232.0 L291.1 232.1 L290.5 232.3 L289.9 232.5 L289.3 232.7 L288.6 233.0 L288.0 233.3 L287.4 233.6 L286.8 233.9 L286.1 234.3 L285.5 234.7 L284.9 235.2 L284.3 235.7 L283.6 236.3 L283.0 236.9 L282.4 237.6 L281.8 238.4 L281.2 239.2 L280.5 240.1 L279.9 241.1 L279.3 242.1 L278.7 243.3 L278.0 244.5 L277.4 245.8 L276.8 247.2 L276.2 248.7 L275.5 250.3 L274.9 252.0 L274.3 253.7 L273.7 255.5 L273.0 257.4 L272.4 259.3 L271.8 261.3 L271.2 263.3 L270.6 265.3 L269.9 269.0 L269.3 273.2 L268.7 277.2 L268.1 280.9 L267.4 284.2 L266.8 287.2 L266.2 289.7 L265.6 291.8 L264.9 293.7 L264.3 295.2 L263.7 296.5 L263.1 297.6 L262.4 298.5 L261.8 299.4 L261.2 300.2 L260.6 300.9 L260.0 301.5 L259.3 302.1 L258.7 302.5 L258.1 302.9 L257.5 303.2 L256.8 303.3 L256.2 303.3 L255.6 303.2 L255.0 303.0 L254.3 302.8 L253.7 302.5 L253.1 302.2 L252.5 301.9 L251.8 301.6 L251.2 301.4 L250.6 301.2 L250.0 301.1 L249.4 301.0 L248.7 300.9 L248.1 300.9 L247.5 300.9 L246.9 300.8 L246.2 300.8 L245.6 300.8 L245.0 300.8 L244.4 300.8 L243.7 300.8 L243.1 300.8 L242.5 300.8 L241.9 300.8 L241.3 300.8 L240.6 300.8 L240.0 300.8 L239.4 300.8 L238.8 300.8 L238.1 300.8 L237.5 300.8 L236.9 300.8 L236.3 300.8 L235.6 300.8 Z" fill="#D57B63" fill-opacity="0.42" stroke="none"/>
<path d="M235.6 300.0 L236.3 300.0 L236.9 300.0 L237.5 299.9 L238.1 299.9 L238.8 299.9 L239.4 299.8 L240.0 299.7 L240.6 299.7 L241.3 299.6 L241.9 299.5 L242.5 299.4 L243.1 299.3 L243.7 299.2 L244.4 299.1 L245.0 298.9 L245.6 298.7 L246.2 298.5 L246.9 298.3 L247.5 298.0 L248.1 297.7 L248.7 297.4 L249.4 297.0 L250.0 296.6 L250.6 296.1 L251.2 295.6 L251.8 295.0 L252.5 294.4 L253.1 293.7 L253.7 292.9 L254.3 292.1 L255.0 291.3 L255.6 290.4 L256.2 289.4 L256.8 288.3 L257.5 287.2 L258.1 286.0 L258.7 284.8 L259.3 283.4 L260.0 281.9 L260.6 280.4 L261.2 278.7 L261.8 277.0 L262.4 275.2 L263.1 273.3 L263.7 271.3 L264.3 269.3 L264.9 267.2 L265.6 265.1 L266.2 262.4 L266.8 259.6 L267.4 256.9 L268.1 254.3 L268.7 251.8 L269.3 249.4 L269.9 247.2 L270.6 245.2 L271.2 243.3 L271.8 241.6 L272.4 240.1 L273.0 238.7 L273.7 237.4 L274.3 236.2 L274.9 235.2 L275.5 234.2 L276.2 233.3 L276.8 232.4 L277.4 231.6 L278.0 230.9 L278.7 230.2 L279.3 229.6 L279.9 229.1 L280.5 228.6 L281.2 228.2 L281.8 227.9 L282.4 227.8 L283.0 227.7 L283.6 227.7 L284.3 227.7 L284.9 227.9 L285.5 228.1 L286.1 228.3 L286.8 228.5 L287.4 228.7 L288.0 229.0 L288.6 229.2 L289.3 229.4 L289.9 229.5 L290.5 229.7 L291.1 229.8 L291.7 229.8 L292.4 229.9 L293.0 230.0 L293.6 230.0 L294.2 230.0 L294.9 230.0 L295.5 230.0 L296.1 230.0 L296.7 230.0 L297.4 230.0 L298.0 230.0 L298.6 230.0 L299.2 230.0 L299.9 230.0 L300.5 230.0 L301.1 230.0 L301.7 230.0 L302.3 230.0 L303.0 230.0 L303.6 230.0 L304.2 230.0 L304.8 230.0 L305.5 230.0 L306.1 230.0 L306.7 230.0 L307.3 230.0 L308.0 230.0 L308.6 230.0 L309.2 230.0 L309.8 230.0 L310.5 230.0 L311.1 230.0 L311.7 230.0 L312.3 230.0 L312.9 230.0 L313.6 230.0 L314.2 230.0 L314.8 230.0 L315.4 230.0 L316.1 230.0 L316.7 230.0 L317.3 230.0 L317.9 230.0 L318.6 230.0 L319.2 230.0 L319.8 230.0 L320.4 230.0 L321.1 230.0 L321.7 230.0 L322.3 230.0 L322.9 230.0 L323.5 230.0 L324.2 230.0 L324.8 230.0 L325.4 230.0 L326.0 230.0 L326.7 230.0 L327.3 230.0 L327.9 230.0 L328.5 230.0 L329.2 230.0 L329.8 230.0 L330.4 230.0 L331.0 230.0 L331.6 230.0 L332.3 230.0 L332.9 230.0 L333.5 230.0 L334.1 230.0 L334.8 230.0 L335.4 230.0" fill="none" stroke="#C9654C" stroke-width="0.6"/>
<path d="M235.6 300.8 L236.3 300.8 L236.9 300.8 L237.5 300.8 L238.1 300.8 L238.8 300.8 L239.4 300.8 L240.0 300.8 L240.6 300.8 L241.3 300.8 L241.9 300.8 L242.5 300.8 L243.1 300.8 L243.7 300.8 L244.4 300.8 L245.0 300.8 L245.6 300.8 L246.2 300.8 L246.9 300.8 L247.5 300.9 L248.1 300.9 L248.7 300.9 L249.4 301.0 L250.0 301.1 L250.6 301.2 L251.2 301.4 L251.8 301.6 L252.5 301.9 L253.1 302.2 L253.7 302.5 L254.3 302.8 L255.0 303.0 L255.6 303.2 L256.2 303.3 L256.8 303.3 L257.5 303.2 L258.1 302.9 L258.7 302.5 L259.3 302.1 L260.0 301.5 L260.6 300.9 L261.2 300.2 L261.8 299.4 L262.4 298.5 L263.1 297.6 L263.7 296.5 L264.3 295.2 L264.9 293.7 L265.6 291.8 L266.2 289.7 L266.8 287.2 L267.4 284.2 L268.1 280.9 L268.7 277.2 L269.3 273.2 L269.9 269.0 L270.6 265.3 L271.2 263.3 L271.8 261.3 L272.4 259.3 L273.0 257.4 L273.7 255.5 L274.3 253.7 L274.9 252.0 L275.5 250.3 L276.2 248.7 L276.8 247.2 L277.4 245.8 L278.0 244.5 L278.7 243.3 L279.3 242.1 L279.9 241.1 L280.5 240.1 L281.2 239.2 L281.8 238.4 L282.4 237.6 L283.0 236.9 L283.6 236.3 L284.3 235.7 L284.9 235.2 L285.5 234.7 L286.1 234.3 L286.8 233.9 L287.4 233.6 L288.0 233.3 L288.6 233.0 L289.3 232.7 L289.9 232.5 L290.5 232.3 L291.1 232.1 L291.7 232.0 L292.4 231.8 L293.0 231.7 L293.6 231.6 L294.2 231.5 L294.9 231.4 L295.5 231.3 L296.1 231.2 L296.7 231.1 L297.4 231.1 L298.0 231.0 L298.6 231.0 L299.2 230.9 L299.9 230.9 L300.5 230.9 L301.1 230.8 L301.7 230.8 L302.3 230.8 L303.0 230.8 L303.6 230.7 L304.2 230.7 L304.8 230.7 L305.5 230.7 L306.1 230.7 L306.7 230.7 L307.3 230.7 L308.0 230.7 L308.6 230.6 L309.2 230.6 L309.8 230.6 L310.5 230.6 L311.1 230.6 L311.7 230.6 L312.3 230.6 L312.9 230.6 L313.6 230.6 L314.2 230.6 L314.8 230.6 L315.4 230.6 L316.1 230.6 L316.7 230.6 L317.3 230.6 L317.9 230.6 L318.6 230.6 L319.2 230.6 L319.8 230.6 L320.4 230.6 L321.1 230.6 L321.7 230.6 L322.3 230.6 L322.9 230.6 L323.5 230.6 L324.2 230.6 L324.8 230.6 L325.4 230.6 L326.0 230.6 L326.7 230.6 L327.3 230.6 L327.9 230.6 L328.5 230.6 L329.2 230.6 L329.8 230.6 L330.4 230.6 L331.0 230.6 L331.6 230.6 L332.3 230.6 L332.9 230.6 L333.5 230.6 L334.1 230.6 L334.8 230.6 L335.4 230.6" fill="none" stroke="#C9654C" stroke-width="0.6"/>
<path d="M235.6 300.5 L236.3 300.5 L236.9 300.5 L237.5 300.5 L238.1 300.5 L238.8 300.5 L239.4 300.5 L240.0 300.5 L240.6 300.5 L241.3 300.5 L241.9 300.5 L242.5 300.4 L243.1 300.4 L243.7 300.4 L244.4 300.4 L245.0 300.3 L245.6 300.3 L246.2 300.3 L246.9 300.2 L247.5 300.1 L248.1 300.1 L248.7 300.0 L249.4 299.9 L250.0 299.8 L250.6 299.7 L251.2 299.5 L251.8 299.4 L252.5 299.2 L253.1 298.9 L253.7 298.7 L254.3 298.3 L255.0 298.0 L255.6 297.6 L256.2 297.1 L256.8 296.5 L257.5 295.9 L258.1 295.2 L258.7 294.3 L259.3 293.4 L260.0 292.3 L260.6 291.1 L261.2 289.8 L261.8 288.3 L262.4 286.6 L263.1 284.8 L263.7 282.8 L264.3 280.6 L264.9 278.3 L265.6 275.9 L266.2 273.4 L266.8 270.7 L267.4 268.0 L268.1 265.3 L268.7 262.9 L269.3 260.6 L269.9 258.3 L270.6 256.1 L271.2 254.0 L271.8 251.9 L272.4 250.0 L273.0 248.1 L273.7 246.4 L274.3 244.8 L274.9 243.3 L275.5 241.9 L276.2 240.7 L276.8 239.6 L277.4 238.5 L278.0 237.6 L278.7 236.8 L279.3 236.0 L279.9 235.4 L280.5 234.8 L281.2 234.2 L281.8 233.8 L282.4 233.4 L283.0 233.0 L283.6 232.7 L284.3 232.4 L284.9 232.1 L285.5 231.9 L286.1 231.7 L286.8 231.5 L287.4 231.4 L288.0 231.2 L288.6 231.1 L289.3 231.0 L289.9 230.9 L290.5 230.9 L291.1 230.8 L291.7 230.7 L292.4 230.7 L293.0 230.6 L293.6 230.6 L294.2 230.6 L294.9 230.5 L295.5 230.5 L296.1 230.5 L296.7 230.4 L297.4 230.4 L298.0 230.4 L298.6 230.4 L299.2 230.4 L299.9 230.4 L300.5 230.4 L301.1 230.4 L301.7 230.4 L302.3 230.3 L303.0 230.3 L303.6 230.3 L304.2 230.3 L304.8 230.3 L305.5 230.3 L306.1 230.3 L306.7 230.3 L307.3 230.3 L308.0 230.3 L308.6 230.3 L309.2 230.3 L309.8 230.3 L310.5 230.3 L311.1 230.3 L311.7 230.3 L312.3 230.3 L312.9 230.3 L313.6 230.3 L314.2 230.3 L314.8 230.3 L315.4 230.3 L316.1 230.3 L316.7 230.3 L317.3 230.3 L317.9 230.3 L318.6 230.3 L319.2 230.3 L319.8 230.3 L320.4 230.3 L321.1 230.3 L321.7 230.3 L322.3 230.3 L322.9 230.3 L323.5 230.3 L324.2 230.3 L324.8 230.3 L325.4 230.3 L326.0 230.3 L326.7 230.3 L327.3 230.3 L327.9 230.3 L328.5 230.3 L329.2 230.3 L329.8 230.3 L330.4 230.3 L331.0 230.3 L331.6 230.3 L332.3 230.3 L332.9 230.3 L333.5 230.3 L334.1 230.3 L334.8 230.3 L335.4 230.3" fill="none" stroke="#C9654C" stroke-width="0.6"/>
<path d="M235.6 300.2 L236.3 300.2 L236.9 300.2 L237.5 300.2 L238.1 300.2 L238.8 300.2 L239.4 300.2 L240.0 300.2 L240.6 300.2 L241.3 300.1 L241.9 300.1 L242.5 300.1 L243.1 300.1 L243.7 300.1 L244.4 300.1 L245.0 300.0 L245.6 300.0 L246.2 300.0 L246.9 300.0 L247.5 299.9 L248.1 299.9 L248.7 299.9 L249.4 299.8 L250.0 299.8 L250.6 299.7 L251.2 299.7 L251.8 299.6 L252.5 299.5 L253.1 299.4 L253.7 299.4 L254.3 299.3 L255.0 299.1 L255.6 299.0 L256.2 298.9 L256.8 298.8 L257.5 298.6 L258.1 298.4 L258.7 298.2 L259.3 298.0 L260.0 297.8 L260.6 297.5 L261.2 297.2 L261.8 296.9 L262.4 296.6 L263.1 296.2 L263.7 295.8 L264.3 295.4 L264.9 294.9 L265.6 294.3 L266.2 293.8 L266.8 293.1 L267.4 292.4 L268.1 291.7 L268.7 290.9 L269.3 290.0 L269.9 289.1 L270.6 288.1 L271.2 287.1 L271.8 285.9 L272.4 284.7 L273.0 283.4 L273.7 282.1 L274.3 280.7 L274.9 279.2 L275.5 277.7 L276.2 276.1 L276.8 274.4 L277.4 272.7 L278.0 271.0 L278.7 269.3 L279.3 267.5 L279.9 265.7 L280.5 262.8 L281.2 259.6 L281.8 256.4 L282.4 253.4 L283.0 250.6 L283.6 248.0 L284.3 245.6 L284.9 243.4 L285.5 241.5 L286.1 239.8 L286.8 238.3 L287.4 237.0 L288.0 235.9 L288.6 234.9 L289.3 234.1 L289.9 233.3 L290.5 232.7 L291.1 232.1 L291.7 231.7 L292.4 231.3 L293.0 230.9 L293.6 230.6 L294.2 230.4 L294.9 230.2 L295.5 230.0 L296.1 229.9 L296.7 229.8 L297.4 229.8 L298.0 229.7 L298.6 229.7 L299.2 229.8 L299.9 229.8 L300.5 229.8 L301.1 229.9 L301.7 229.9 L302.3 229.9 L303.0 230.0 L303.6 230.0 L304.2 230.0 L304.8 230.0 L305.5 230.0 L306.1 230.0 L306.7 230.0 L307.3 230.0 L308.0 230.0 L308.6 230.0 L309.2 230.0 L309.8 230.0 L310.5 230.0 L311.1 230.0 L311.7 230.0 L312.3 230.0 L312.9 230.0 L313.6 230.0 L314.2 230.0 L314.8 230.0 L315.4 230.0 L316.1 230.0 L316.7 230.0 L317.3 230.0 L317.9 230.0 L318.6 230.0 L319.2 230.0 L319.8 230.0 L320.4 230.0 L321.1 230.0 L321.7 230.0 L322.3 230.0 L322.9 230.0 L323.5 230.0 L324.2 230.0 L324.8 230.0 L325.4 230.0 L326.0 230.0 L326.7 230.0 L327.3 230.0 L327.9 230.0 L328.5 230.0 L329.2 230.0 L329.8 230.0 L330.4 230.0 L331.0 230.0 L331.6 230.0 L332.3 230.0 L332.9 230.0 L333.5 230.0 L334.1 230.0 L334.8 230.0 L335.4 230.0 L335.4 230.6 L334.8 230.6 L334.1 230.6 L333.5 230.6 L332.9 230.6 L332.3 230.6 L331.6 230.6 L331.0 230.6 L330.4 230.6 L329.8 230.6 L329.2 230.6 L328.5 230.6 L327.9 230.6 L327.3 230.6 L326.7 230.6 L326.0 230.6 L325.4 230.6 L324.8 230.6 L324.2 230.6 L323.5 230.6 L322.9 230.6 L322.3 230.7 L321.7 230.7 L321.1 230.7 L320.4 230.7 L319.8 230.7 L319.2 230.7 L318.6 230.7 L317.9 230.7 L317.3 230.8 L316.7 230.8 L316.1 230.8 L315.4 230.8 L314.8 230.9 L314.2 230.9 L313.6 230.9 L312.9 231.0 L312.3 231.0 L311.7 231.1 L311.1 231.1 L310.5 231.2 L309.8 231.3 L309.2 231.3 L308.6 231.4 L308.0 231.5 L307.3 231.6 L306.7 231.7 L306.1 231.9 L305.5 232.0 L304.8 232.2 L304.2 232.4 L303.6 232.6 L303.0 232.8 L302.3 233.1 L301.7 233.4 L301.1 233.7 L300.5 234.0 L299.9 234.4 L299.2 234.8 L298.6 235.3 L298.0 235.8 L297.4 236.4 L296.7 237.0 L296.1 237.7 L295.5 238.4 L294.9 239.2 L294.2 240.1 L293.6 241.1 L293.0 242.1 L292.4 243.2 L291.7 244.4 L291.1 245.7 L290.5 247.1 L289.9 248.5 L289.3 250.0 L288.6 251.7 L288.0 253.3 L287.4 255.1 L286.8 256.9 L286.1 258.8 L285.5 260.7 L284.9 262.6 L284.3 264.5 L283.6 267.0 L283.0 270.0 L282.4 273.0 L281.8 275.9 L281.2 278.7 L280.5 281.2 L279.9 283.6 L279.3 285.8 L278.7 287.8 L278.0 289.5 L277.4 291.1 L276.8 292.5 L276.2 293.7 L275.5 294.8 L274.9 295.7 L274.3 296.5 L273.7 297.2 L273.0 297.9 L272.4 298.5 L271.8 299.1 L271.2 299.6 L270.6 300.1 L269.9 300.5 L269.3 300.9 L268.7 301.3 L268.1 301.5 L267.4 301.7 L266.8 301.8 L266.2 301.8 L265.6 301.7 L264.9 301.6 L264.3 301.4 L263.7 301.3 L263.1 301.1 L262.4 301.0 L261.8 300.9 L261.2 300.9 L260.6 300.8 L260.0 300.8 L259.3 300.8 L258.7 300.8 L258.1 300.8 L257.5 300.8 L256.8 300.8 L256.2 300.8 L255.6 300.8 L255.0 300.8 L254.3 300.8 L253.7 300.8 L253.1 300.8 L252.5 300.8 L251.8 300.8 L251.2 300.8 L250.6 300.8 L250.0 300.8 L249.4 300.8 L248.7 300.8 L248.1 300.8 L247.5 300.8 L246.9 300.8 L246.2 300.8 L245.6 300.8 L245.0 300.8 L244.4 300.8 L243.7 300.8 L243.1 300.8 L242.5 300.8 L241.9 300.8 L241.3 300.8 L240.6 300.8 L240.0 300.8 L239.4 300.8 L238.8 300.8 L238.1 300.8 L237.5 300.8 L236.9 300.8 L236.3 300.8 L235.6 300.8 Z" fill="#3F76A3" fill-opacity="0.5" stroke="none"/>
<path d="M235.6 300.2 L236.3 300.2 L236.9 300.2 L237.5 300.2 L238.1 300.2 L238.8 300.2 L239.4 300.2 L240.0 300.2 L240.6 300.2 L241.3 300.1 L241.9 300.1 L242.5 300.1 L243.1 300.1 L243.7 300.1 L244.4 300.1 L245.0 300.0 L245.6 300.0 L246.2 300.0 L246.9 300.0 L247.5 299.9 L248.1 299.9 L248.7 299.9 L249.4 299.8 L250.0 299.8 L250.6 299.7 L251.2 299.7 L251.8 299.6 L252.5 299.5 L253.1 299.4 L253.7 299.4 L254.3 299.3 L255.0 299.1 L255.6 299.0 L256.2 298.9 L256.8 298.8 L257.5 298.6 L258.1 298.4 L258.7 298.2 L259.3 298.0 L260.0 297.8 L260.6 297.5 L261.2 297.2 L261.8 296.9 L262.4 296.6 L263.1 296.2 L263.7 295.8 L264.3 295.4 L264.9 294.9 L265.6 294.3 L266.2 293.8 L266.8 293.1 L267.4 292.4 L268.1 291.7 L268.7 290.9 L269.3 290.0 L269.9 289.1 L270.6 288.1 L271.2 287.1 L271.8 285.9 L272.4 284.7 L273.0 283.4 L273.7 282.1 L274.3 280.7 L274.9 279.2 L275.5 277.7 L276.2 276.1 L276.8 274.4 L277.4 272.7 L278.0 271.0 L278.7 269.3 L279.3 267.5 L279.9 265.7 L280.5 262.8 L281.2 259.6 L281.8 256.4 L282.4 253.4 L283.0 250.6 L283.6 248.0 L284.3 245.6 L284.9 243.4 L285.5 241.5 L286.1 239.8 L286.8 238.3 L287.4 237.0 L288.0 235.9 L288.6 234.9 L289.3 234.1 L289.9 233.3 L290.5 232.7 L291.1 232.1 L291.7 231.7 L292.4 231.3 L293.0 230.9 L293.6 230.6 L294.2 230.4 L294.9 230.2 L295.5 230.0 L296.1 229.9 L296.7 229.8 L297.4 229.8 L298.0 229.7 L298.6 229.7 L299.2 229.8 L299.9 229.8 L300.5 229.8 L301.1 229.9 L301.7 229.9 L302.3 229.9 L303.0 230.0 L303.6 230.0 L304.2 230.0 L304.8 230.0 L305.5 230.0 L306.1 230.0 L306.7 230.0 L307.3 230.0 L308.0 230.0 L308.6 230.0 L309.2 230.0 L309.8 230.0 L310.5 230.0 L311.1 230.0 L311.7 230.0 L312.3 230.0 L312.9 230.0 L313.6 230.0 L314.2 230.0 L314.8 230.0 L315.4 230.0 L316.1 230.0 L316.7 230.0 L317.3 230.0 L317.9 230.0 L318.6 230.0 L319.2 230.0 L319.8 230.0 L320.4 230.0 L321.1 230.0 L321.7 230.0 L322.3 230.0 L322.9 230.0 L323.5 230.0 L324.2 230.0 L324.8 230.0 L325.4 230.0 L326.0 230.0 L326.7 230.0 L327.3 230.0 L327.9 230.0 L328.5 230.0 L329.2 230.0 L329.8 230.0 L330.4 230.0 L331.0 230.0 L331.6 230.0 L332.3 230.0 L332.9 230.0 L333.5 230.0 L334.1 230.0 L334.8 230.0 L335.4 230.0" fill="none" stroke="#2F6492" stroke-width="0.6"/>
<path d="M235.6 300.8 L236.3 300.8 L236.9 300.8 L237.5 300.8 L238.1 300.8 L238.8 300.8 L239.4 300.8 L240.0 300.8 L240.6 300.8 L241.3 300.8 L241.9 300.8 L242.5 300.8 L243.1 300.8 L243.7 300.8 L244.4 300.8 L245.0 300.8 L245.6 300.8 L246.2 300.8 L246.9 300.8 L247.5 300.8 L248.1 300.8 L248.7 300.8 L249.4 300.8 L250.0 300.8 L250.6 300.8 L251.2 300.8 L251.8 300.8 L252.5 300.8 L253.1 300.8 L253.7 300.8 L254.3 300.8 L255.0 300.8 L255.6 300.8 L256.2 300.8 L256.8 300.8 L257.5 300.8 L258.1 300.8 L258.7 300.8 L259.3 300.8 L260.0 300.8 L260.6 300.8 L261.2 300.9 L261.8 300.9 L262.4 301.0 L263.1 301.1 L263.7 301.3 L264.3 301.4 L264.9 301.6 L265.6 301.7 L266.2 301.8 L266.8 301.8 L267.4 301.7 L268.1 301.5 L268.7 301.3 L269.3 300.9 L269.9 300.5 L270.6 300.1 L271.2 299.6 L271.8 299.1 L272.4 298.5 L273.0 297.9 L273.7 297.2 L274.3 296.5 L274.9 295.7 L275.5 294.8 L276.2 293.7 L276.8 292.5 L277.4 291.1 L278.0 289.5 L278.7 287.8 L279.3 285.8 L279.9 283.6 L280.5 281.2 L281.2 278.7 L281.8 275.9 L282.4 273.0 L283.0 270.0 L283.6 267.0 L284.3 264.5 L284.9 262.6 L285.5 260.7 L286.1 258.8 L286.8 256.9 L287.4 255.1 L288.0 253.3 L288.6 251.7 L289.3 250.0 L289.9 248.5 L290.5 247.1 L291.1 245.7 L291.7 244.4 L292.4 243.2 L293.0 242.1 L293.6 241.1 L294.2 240.1 L294.9 239.2 L295.5 238.4 L296.1 237.7 L296.7 237.0 L297.4 236.4 L298.0 235.8 L298.6 235.3 L299.2 234.8 L299.9 234.4 L300.5 234.0 L301.1 233.7 L301.7 233.4 L302.3 233.1 L303.0 232.8 L303.6 232.6 L304.2 232.4 L304.8 232.2 L305.5 232.0 L306.1 231.9 L306.7 231.7 L307.3 231.6 L308.0 231.5 L308.6 231.4 L309.2 231.3 L309.8 231.3 L310.5 231.2 L311.1 231.1 L311.7 231.1 L312.3 231.0 L312.9 231.0 L313.6 230.9 L314.2 230.9 L314.8 230.9 L315.4 230.8 L316.1 230.8 L316.7 230.8 L317.3 230.8 L317.9 230.7 L318.6 230.7 L319.2 230.7 L319.8 230.7 L320.4 230.7 L321.1 230.7 L321.7 230.7 L322.3 230.7 L322.9 230.6 L323.5 230.6 L324.2 230.6 L324.8 230.6 L325.4 230.6 L326.0 230.6 L326.7 230.6 L327.3 230.6 L327.9 230.6 L328.5 230.6 L329.2 230.6 L329.8 230.6 L330.4 230.6 L331.0 230.6 L331.6 230.6 L332.3 230.6 L332.9 230.6 L333.5 230.6 L334.1 230.6 L334.8 230.6 L335.4 230.6" fill="none" stroke="#2F6492" stroke-width="0.6"/>
<path d="M235.6 300.5 L236.3 300.5 L236.9 300.5 L237.5 300.5 L238.1 300.5 L238.8 300.5 L239.4 300.5 L240.0 300.5 L240.6 300.5 L241.3 300.5 L241.9 300.5 L242.5 300.5 L243.1 300.5 L243.7 300.5 L244.4 300.5 L245.0 300.5 L245.6 300.5 L246.2 300.5 L246.9 300.5 L247.5 300.5 L248.1 300.5 L248.7 300.5 L249.4 300.5 L250.0 300.5 L250.6 300.5 L251.2 300.5 L251.8 300.4 L252.5 300.4 L253.1 300.4 L253.7 300.4 L254.3 300.4 L255.0 300.3 L255.6 300.3 L256.2 300.3 L256.8 300.2 L257.5 300.2 L258.1 300.1 L258.7 300.1 L259.3 300.0 L260.0 299.9 L260.6 299.9 L261.2 299.8 L261.8 299.6 L262.4 299.5 L263.1 299.4 L263.7 299.2 L264.3 299.0 L264.9 298.8 L265.6 298.6 L266.2 298.3 L266.8 298.0 L267.4 297.6 L268.1 297.2 L268.7 296.7 L269.3 296.2 L269.9 295.7 L270.6 295.0 L271.2 294.3 L271.8 293.5 L272.4 292.6 L273.0 291.6 L273.7 290.5 L274.3 289.3 L274.9 288.0 L275.5 286.5 L276.2 285.0 L276.8 283.3 L277.4 281.5 L278.0 279.5 L278.7 277.5 L279.3 275.4 L279.9 273.2 L280.5 270.9 L281.2 268.6 L281.8 266.3 L282.4 263.8 L283.0 261.3 L283.6 258.9 L284.3 256.5 L284.9 254.2 L285.5 252.0 L286.1 249.9 L286.8 248.0 L287.4 246.1 L288.0 244.4 L288.6 242.9 L289.3 241.5 L289.9 240.2 L290.5 239.1 L291.1 238.0 L291.7 237.1 L292.4 236.3 L293.0 235.5 L293.6 234.9 L294.2 234.3 L294.9 233.8 L295.5 233.4 L296.1 233.0 L296.7 232.6 L297.4 232.3 L298.0 232.1 L298.6 231.8 L299.2 231.6 L299.9 231.5 L300.5 231.3 L301.1 231.2 L301.7 231.1 L302.3 231.0 L303.0 230.9 L303.6 230.8 L304.2 230.7 L304.8 230.7 L305.5 230.6 L306.1 230.6 L306.7 230.5 L307.3 230.5 L308.0 230.5 L308.6 230.5 L309.2 230.4 L309.8 230.4 L310.5 230.4 L311.1 230.4 L311.7 230.4 L312.3 230.4 L312.9 230.4 L313.6 230.4 L314.2 230.3 L314.8 230.3 L315.4 230.3 L316.1 230.3 L316.7 230.3 L317.3 230.3 L317.9 230.3 L318.6 230.3 L319.2 230.3 L319.8 230.3 L320.4 230.3 L321.1 230.3 L321.7 230.3 L322.3 230.3 L322.9 230.3 L323.5 230.3 L324.2 230.3 L324.8 230.3 L325.4 230.3 L326.0 230.3 L326.7 230.3 L327.3 230.3 L327.9 230.3 L328.5 230.3 L329.2 230.3 L329.8 230.3 L330.4 230.3 L331.0 230.3 L331.6 230.3 L332.3 230.3 L332.9 230.3 L333.5 230.3 L334.1 230.3 L334.8 230.3 L335.4 230.3" fill="none" stroke="#2F6492" stroke-width="0.6"/>
<circle cx="235.64" cy="297.39" r="1.55" fill="#D57B63"/>
<circle cx="235.64" cy="300.55" r="1.55" fill="#3F76A3"/>
<line x1="269.12" y1="259.1" x2="269.12" y2="264.72" stroke="#D57B63" stroke-width="0.7"/>
<line x1="267.52" y1="259.1" x2="270.72" y2="259.1" stroke="#D57B63" stroke-width="0.7"/>
<line x1="267.52" y1="264.72" x2="270.72" y2="264.72" stroke="#D57B63" stroke-width="0.7"/>
<circle cx="269.12" cy="261.91" r="1.55" fill="#D57B63"/>
<circle cx="269.12" cy="291.42" r="1.55" fill="#3F76A3"/>
<line x1="279.22" y1="229.95" x2="279.22" y2="236.97" stroke="#D57B63" stroke-width="0.7"/>
<line x1="277.62" y1="229.95" x2="280.82" y2="229.95" stroke="#D57B63" stroke-width="0.7"/>
<line x1="277.62" y1="236.97" x2="280.82" y2="236.97" stroke="#D57B63" stroke-width="0.7"/>
<circle cx="279.22" cy="233.46" r="1.55" fill="#D57B63"/>
<line x1="279.22" y1="276.67" x2="279.22" y2="280.88" stroke="#3F76A3" stroke-width="0.7"/>
<line x1="277.62" y1="276.67" x2="280.82" y2="276.67" stroke="#3F76A3" stroke-width="0.7"/>
<line x1="277.62" y1="280.88" x2="280.82" y2="280.88" stroke="#3F76A3" stroke-width="0.7"/>
<circle cx="279.22" cy="278.77" r="1.55" fill="#3F76A3"/>
<line x1="284.6" y1="227.49" x2="284.6" y2="233.11" stroke="#D57B63" stroke-width="0.7"/>
<line x1="283.0" y1="227.49" x2="286.2" y2="227.49" stroke="#D57B63" stroke-width="0.7"/>
<line x1="283.0" y1="233.11" x2="286.2" y2="233.11" stroke="#D57B63" stroke-width="0.7"/>
<circle cx="284.60" cy="230.30" r="1.55" fill="#D57B63"/>
<line x1="284.6" y1="249.97" x2="284.6" y2="255.59" stroke="#3F76A3" stroke-width="0.7"/>
<line x1="283.0" y1="249.97" x2="286.2" y2="249.97" stroke="#3F76A3" stroke-width="0.7"/>
<line x1="283.0" y1="255.59" x2="286.2" y2="255.59" stroke="#3F76A3" stroke-width="0.7"/>
<circle cx="284.60" cy="252.78" r="1.55" fill="#3F76A3"/>
<line x1="294.28" y1="235.22" x2="294.28" y2="243.65" stroke="#D57B63" stroke-width="0.7"/>
<line x1="292.68" y1="235.22" x2="295.88" y2="235.22" stroke="#D57B63" stroke-width="0.7"/>
<line x1="292.68" y1="243.65" x2="295.88" y2="243.65" stroke="#D57B63" stroke-width="0.7"/>
<circle cx="294.28" cy="235.22" r="1.55" fill="#D57B63"/>
<line x1="294.28" y1="231.35" x2="294.28" y2="235.57" stroke="#3F76A3" stroke-width="0.7"/>
<line x1="292.68" y1="231.35" x2="295.88" y2="231.35" stroke="#3F76A3" stroke-width="0.7"/>
<line x1="292.68" y1="235.57" x2="295.88" y2="235.57" stroke="#3F76A3" stroke-width="0.7"/>
<circle cx="294.28" cy="233.46" r="1.55" fill="#3F76A3"/>
<line x1="301.69" y1="233.67" x2="301.69" y2="237.89" stroke="#D57B63" stroke-width="0.7"/>
<line x1="300.09" y1="233.67" x2="303.29" y2="233.67" stroke="#D57B63" stroke-width="0.7"/>
<line x1="300.09" y1="237.89" x2="303.29" y2="237.89" stroke="#D57B63" stroke-width="0.7"/>
<circle cx="301.69" cy="235.78" r="1.55" fill="#D57B63"/>
<line x1="301.69" y1="217.23" x2="301.69" y2="234.8" stroke="#3F76A3" stroke-width="0.7"/>
<line x1="300.09" y1="217.23" x2="303.29" y2="217.23" stroke="#3F76A3" stroke-width="0.7"/>
<line x1="300.09" y1="234.8" x2="303.29" y2="234.8" stroke="#3F76A3" stroke-width="0.7"/>
<circle cx="301.69" cy="226.01" r="1.55" fill="#3F76A3"/>
<line x1="317.03" y1="222.22" x2="317.03" y2="225.73" stroke="#D57B63" stroke-width="0.7"/>
<line x1="315.43" y1="222.22" x2="318.63" y2="222.22" stroke="#D57B63" stroke-width="0.7"/>
<line x1="315.43" y1="225.73" x2="318.63" y2="225.73" stroke="#D57B63" stroke-width="0.7"/>
<circle cx="317.03" cy="223.98" r="1.55" fill="#D57B63"/>
<line x1="317.03" y1="226.16" x2="317.03" y2="235.99" stroke="#3F76A3" stroke-width="0.7"/>
<line x1="315.43" y1="226.16" x2="318.63" y2="226.16" stroke="#3F76A3" stroke-width="0.7"/>
<line x1="315.43" y1="235.99" x2="318.63" y2="235.99" stroke="#3F76A3" stroke-width="0.7"/>
<circle cx="317.03" cy="231.07" r="1.55" fill="#3F76A3"/>
<circle cx="334.04" cy="230.30" r="1.55" fill="#D57B63"/>
<line x1="334.04" y1="225.45" x2="334.04" y2="234.3" stroke="#3F76A3" stroke-width="0.7"/>
<line x1="332.44" y1="225.45" x2="335.64" y2="225.45" stroke="#3F76A3" stroke-width="0.7"/>
<line x1="332.44" y1="234.3" x2="335.64" y2="234.3" stroke="#3F76A3" stroke-width="0.7"/>
<circle cx="334.04" cy="229.88" r="1.55" fill="#3F76A3"/>
<line x1="220.0" y1="208.9" x2="220.0" y2="315.4" stroke="#000" stroke-width="1"/>
<line x1="219.5" y1="314.9" x2="349.4" y2="314.9" stroke="#000" stroke-width="1"/>
<line x1="217.70000000000002" y1="300.55" x2="220.3" y2="300.55" stroke="#000" stroke-width="1"/>
<text x="215.8" y="303.45" font-size="8.0" text-anchor="end" fill="#0d0d0d">0.0</text>
<line x1="217.70000000000002" y1="265.425" x2="220.3" y2="265.425" stroke="#000" stroke-width="1"/>
<text x="215.8" y="268.325" font-size="8.0" text-anchor="end" fill="#0d0d0d">0.5</text>
<line x1="217.70000000000002" y1="230.3" x2="220.3" y2="230.3" stroke="#000" stroke-width="1"/>
<text x="215.8" y="233.20000000000002" font-size="8.0" text-anchor="end" fill="#0d0d0d">1.0</text>
<line x1="218.60000000000002" y1="314.6" x2="220.3" y2="314.6" stroke="#000" stroke-width="0.9"/>
<line x1="218.60000000000002" y1="307.57" x2="220.3" y2="307.57" stroke="#000" stroke-width="0.9"/>
<line x1="218.60000000000002" y1="293.53" x2="220.3" y2="293.53" stroke="#000" stroke-width="0.9"/>
<line x1="218.60000000000002" y1="286.5" x2="220.3" y2="286.5" stroke="#000" stroke-width="0.9"/>
<line x1="218.60000000000002" y1="279.48" x2="220.3" y2="279.48" stroke="#000" stroke-width="0.9"/>
<line x1="218.60000000000002" y1="272.45" x2="220.3" y2="272.45" stroke="#000" stroke-width="0.9"/>
<line x1="218.60000000000002" y1="258.4" x2="220.3" y2="258.4" stroke="#000" stroke-width="0.9"/>
<line x1="218.60000000000002" y1="251.38" x2="220.3" y2="251.38" stroke="#000" stroke-width="0.9"/>
<line x1="218.60000000000002" y1="244.35" x2="220.3" y2="244.35" stroke="#000" stroke-width="0.9"/>
<line x1="218.60000000000002" y1="237.33" x2="220.3" y2="237.33" stroke="#000" stroke-width="0.9"/>
<line x1="218.60000000000002" y1="223.28" x2="220.3" y2="223.28" stroke="#000" stroke-width="0.9"/>
<line x1="218.60000000000002" y1="216.25" x2="220.3" y2="216.25" stroke="#000" stroke-width="0.9"/>
<line x1="218.60000000000002" y1="209.23" x2="220.3" y2="209.23" stroke="#000" stroke-width="0.9"/>
<line x1="220.3" y1="314.9" x2="220.3" y2="316.4" stroke="#000" stroke-width="1"/>
<text x="220.3" y="325.5" font-size="8.4" text-anchor="middle" fill="#0d0d0d">1</text>
<line x1="252.45" y1="314.9" x2="252.45" y2="316.4" stroke="#000" stroke-width="1"/>
<text x="252.45" y="325.5" font-size="8.4" text-anchor="middle" fill="#0d0d0d">10</text>
<line x1="284.6" y1="314.9" x2="284.6" y2="316.4" stroke="#000" stroke-width="1"/>
<text x="284.6" y="325.5" font-size="8.4" text-anchor="middle" fill="#0d0d0d">100</text>
<line x1="316.75" y1="314.9" x2="316.75" y2="316.4" stroke="#000" stroke-width="1"/>
<text x="316.75" y="325.5" font-size="8.4" text-anchor="middle" fill="#0d0d0d">1000</text>
<line x1="348.9" y1="314.9" x2="348.9" y2="316.4" stroke="#000" stroke-width="1"/>
<text x="348.9" y="325.5" font-size="8.4" text-anchor="middle" fill="#0d0d0d">10000</text>
<text x="285.6" y="336.2" font-size="8.36" text-anchor="middle" fill="#0d0d0d">Gemcitabine concentration (nM)</text>
<text x="197.6" y="257.3" font-size="8.6" text-anchor="middle" fill="#0d0d0d" transform="rotate(-90 197.6 257.3)">Normalized cell toxicity</text>
<line x1="301.1" y1="270.1" x2="307.1" y2="270.1" stroke="#D57B63" stroke-width="0.6"/>
<circle cx="304.1" cy="270.1" r="1.15" fill="#D57B63"/>
<text x="309.1" y="272.5" font-size="6.62" text-anchor="start" fill="#0d0d0d">HELP R<tspan text-decoration="underline">DG</tspan> Low</text>
<line x1="301.1" y1="280.3" x2="307.1" y2="280.3" stroke="#3F76A3" stroke-width="0.6"/>
<circle cx="304.1" cy="280.3" r="1.15" fill="#3F76A3"/>
<text x="309.1" y="282.7" font-size="6.62" text-anchor="start" fill="#0d0d0d">HELP R<tspan text-decoration="underline">DG</tspan> High</text>
</g>
<g id="panel-f">
<text x="377.4" y="191.5" font-size="15.8" text-anchor="start" fill="#000" font-weight="bold">f</text>
<text x="476.8" y="194.4" font-size="10.15" text-anchor="middle" fill="#0d0d0d">Single Cells - P4</text>
<rect x="430.8" y="277.64" width="13.6" height="36.96000000000001" fill="#D57B63" stroke="#111" stroke-width="1"/>
<line x1="437.6" y1="274.47200000000004" x2="437.6" y2="280.28000000000003" stroke="#111" stroke-width="0.9"/>
<line x1="433.40000000000003" y1="274.47200000000004" x2="441.8" y2="274.47200000000004" stroke="#111" stroke-width="0.9"/>
<line x1="433.40000000000003" y1="280.28000000000003" x2="441.8" y2="280.28000000000003" stroke="#111" stroke-width="0.9"/>
<rect x="452.7" y="230.12" width="13.7" height="84.48000000000002" fill="#3F76A3" stroke="#111" stroke-width="1"/>
<line x1="459.55" y1="217.976" x2="459.55" y2="241.208" stroke="#111" stroke-width="0.9"/>
<line x1="455.35" y1="217.976" x2="463.75" y2="217.976" stroke="#111" stroke-width="0.9"/>
<line x1="455.35" y1="241.208" x2="463.75" y2="241.208" stroke="#111" stroke-width="0.9"/>
<rect x="485.7" y="295.59200000000004" width="13.6" height="19.008000000000006" fill="#D57B63" stroke="#111" stroke-width="1"/>
<line x1="492.5" y1="292.2128" x2="492.5" y2="298.5488" stroke="#111" stroke-width="0.9"/>
<line x1="488.3" y1="292.2128" x2="496.7" y2="292.2128" stroke="#111" stroke-width="0.9"/>
<line x1="488.3" y1="298.5488" x2="496.7" y2="298.5488" stroke="#111" stroke-width="0.9"/>
<rect x="507.8" y="271.30400000000003" width="13.5" height="43.296000000000014" fill="#3F76A3" stroke="#111" stroke-width="1"/>
<line x1="514.55" y1="261.4832" x2="514.55" y2="279.752" stroke="#111" stroke-width="0.9"/>
<line x1="510.34999999999997" y1="261.4832" x2="518.75" y2="261.4832" stroke="#111" stroke-width="0.9"/>
<line x1="510.34999999999997" y1="279.752" x2="518.75" y2="279.752" stroke="#111" stroke-width="0.9"/>
<line x1="423" y1="208.5" x2="423" y2="315.1" stroke="#000" stroke-width="1"/>
<line x1="422.5" y1="314.6" x2="529.5" y2="314.6" stroke="#000" stroke-width="1"/>
<line x1="419.6" y1="314.6" x2="423" y2="314.6" stroke="#000" stroke-width="1"/>
<text x="418.5" y="317.35" font-size="7.9" text-anchor="end" fill="#0d0d0d">0</text>
<line x1="419.6" y1="293.48" x2="423" y2="293.48" stroke="#000" stroke-width="1"/>
<text x="418.5" y="296.23" font-size="7.9" text-anchor="end" fill="#0d0d0d">20</text>
<line x1="419.6" y1="272.36" x2="423" y2="272.36" stroke="#000" stroke-width="1"/>
<text x="418.5" y="275.11" font-size="7.9" text-anchor="end" fill="#0d0d0d">40</text>
<line x1="419.6" y1="251.24" x2="423" y2="251.24" stroke="#000" stroke-width="1"/>
<text x="418.5" y="253.99" font-size="7.9" text-anchor="end" fill="#0d0d0d">60</text>
<line x1="419.6" y1="230.12" x2="423" y2="230.12" stroke="#000" stroke-width="1"/>
<text x="418.5" y="232.87" font-size="7.9" text-anchor="end" fill="#0d0d0d">80</text>
<line x1="419.6" y1="209.0" x2="423" y2="209.0" stroke="#000" stroke-width="1"/>
<text x="418.5" y="211.75" font-size="7.9" text-anchor="end" fill="#0d0d0d">100</text>
<text x="459.3" y="214.39999999999998" font-size="11.2" text-anchor="middle" fill="#0d0d0d" font-weight="bold">***</text>
<text x="514.8" y="257.2" font-size="11.2" text-anchor="middle" fill="#0d0d0d" font-weight="bold">**</text>
<text x="447.5" y="327.7" font-size="9.05" text-anchor="middle" fill="#0d0d0d">RGD</text>
<text x="502.7" y="327.7" font-size="9.05" text-anchor="middle" fill="#0d0d0d">R<tspan dx="1.1">DG</tspan></text>
<line x1="499.8" y1="330.1" x2="513.7" y2="330.1" stroke="#1a1a1a" stroke-width="0.9"/>
<text x="399.0" y="261" font-size="9.1" text-anchor="middle" fill="#1a1a1a" transform="rotate(-90 399.0 261)">Gemcitabine IC<tspan font-size="5.6" dy="1.7">50</tspan><tspan dy="-1.7"> (nM)</tspan></text>
<rect x="491.5" y="207.4" width="11.6" height="5.6" fill="#D57B63" stroke="#111" stroke-width="0.9"/>
<rect x="491.5" y="218.2" width="11.6" height="5.6" fill="#3F76A3" stroke="#111" stroke-width="0.9"/>
<text x="506.3" y="213.6" font-size="8.6" text-anchor="start" fill="#0d0d0d">Low</text>
<text x="506.3" y="224.2" font-size="8.6" text-anchor="start" fill="#0d0d0d">High</text>
<text x="632.6" y="194.2" font-size="10.25" text-anchor="middle" fill="#0d0d0d">Organoids - P4</text>
<rect x="586.4" y="274.434" width="13.6" height="40.166000000000004" fill="#D57B63" stroke="#111" stroke-width="1"/>
<line x1="593.1999999999999" y1="268.35625000000005" x2="593.1999999999999" y2="278.66200000000003" stroke="#111" stroke-width="0.9"/>
<line x1="588.9999999999999" y1="268.35625000000005" x2="597.4" y2="268.35625000000005" stroke="#111" stroke-width="0.9"/>
<line x1="588.9999999999999" y1="278.66200000000003" x2="597.4" y2="278.66200000000003" stroke="#111" stroke-width="0.9"/>
<rect x="608.5" y="231.62550000000002" width="13.6" height="82.9745" fill="#3F76A3" stroke="#111" stroke-width="1"/>
<line x1="615.3" y1="220.52700000000002" x2="615.3" y2="241.66700000000003" stroke="#111" stroke-width="0.9"/>
<line x1="611.0999999999999" y1="220.52700000000002" x2="619.5" y2="220.52700000000002" stroke="#111" stroke-width="0.9"/>
<line x1="611.0999999999999" y1="241.66700000000003" x2="619.5" y2="241.66700000000003" stroke="#111" stroke-width="0.9"/>
<rect x="641.6" y="298.745" width="13.4" height="15.855000000000002" fill="#D57B63" stroke="#111" stroke-width="1"/>
<line x1="648.3000000000001" y1="295.83825" x2="648.3000000000001" y2="300.43620000000004" stroke="#111" stroke-width="0.9"/>
<line x1="644.1" y1="295.83825" x2="652.5000000000001" y2="295.83825" stroke="#111" stroke-width="0.9"/>
<line x1="644.1" y1="300.43620000000004" x2="652.5000000000001" y2="300.43620000000004" stroke="#111" stroke-width="0.9"/>
<rect x="663.8" y="272.32" width="13.5" height="42.28000000000001" fill="#3F76A3" stroke="#111" stroke-width="1"/>
<line x1="670.55" y1="266.5065" x2="670.55" y2="276.548" stroke="#111" stroke-width="0.9"/>
<line x1="666.3499999999999" y1="266.5065" x2="674.75" y2="266.5065" stroke="#111" stroke-width="0.9"/>
<line x1="666.3499999999999" y1="276.548" x2="674.75" y2="276.548" stroke="#111" stroke-width="0.9"/>
<line x1="578.3" y1="208.4" x2="578.3" y2="315.1" stroke="#000" stroke-width="1"/>
<line x1="577.8" y1="314.6" x2="685" y2="314.6" stroke="#000" stroke-width="1"/>
<line x1="574.9" y1="314.6" x2="578.3" y2="314.6" stroke="#000" stroke-width="1"/>
<text x="573.8" y="317.35" font-size="7.9" text-anchor="end" fill="#0d0d0d">0</text>
<line x1="574.9" y1="288.175" x2="578.3" y2="288.175" stroke="#000" stroke-width="1"/>
<text x="573.8" y="290.925" font-size="7.9" text-anchor="end" fill="#0d0d0d">50</text>
<line x1="574.9" y1="261.75" x2="578.3" y2="261.75" stroke="#000" stroke-width="1"/>
<text x="573.8" y="264.5" font-size="7.9" text-anchor="end" fill="#0d0d0d">100</text>
<line x1="574.9" y1="235.32500000000002" x2="578.3" y2="235.32500000000002" stroke="#000" stroke-width="1"/>
<text x="573.8" y="238.07500000000002" font-size="7.9" text-anchor="end" fill="#0d0d0d">150</text>
<line x1="574.9" y1="208.9" x2="578.3" y2="208.9" stroke="#000" stroke-width="1"/>
<text x="573.8" y="211.65" font-size="7.9" text-anchor="end" fill="#0d0d0d">200</text>
<text x="615.2" y="214.39999999999998" font-size="11.2" text-anchor="middle" fill="#0d0d0d" font-weight="bold">***</text>
<text x="670.6" y="260.7" font-size="11.2" text-anchor="middle" fill="#0d0d0d" font-weight="bold">****</text>
<text x="603" y="327.7" font-size="9.4" text-anchor="middle" fill="#0d0d0d">RGD</text>
<text x="659" y="327.7" font-size="9.4" text-anchor="middle" fill="#0d0d0d">RDG</text>
<line x1="655.5" y1="330.1" x2="669.4" y2="330.1" stroke="#1a1a1a" stroke-width="0.9"/>
<text x="554.0" y="261" font-size="9.1" text-anchor="middle" fill="#1a1a1a" transform="rotate(-90 554.0 261)">Gemcitabine IC<tspan font-size="5.6" dy="1.7">50</tspan><tspan dy="-1.7"> (nM)</tspan></text>
</g>
</svg>
</body></html>
